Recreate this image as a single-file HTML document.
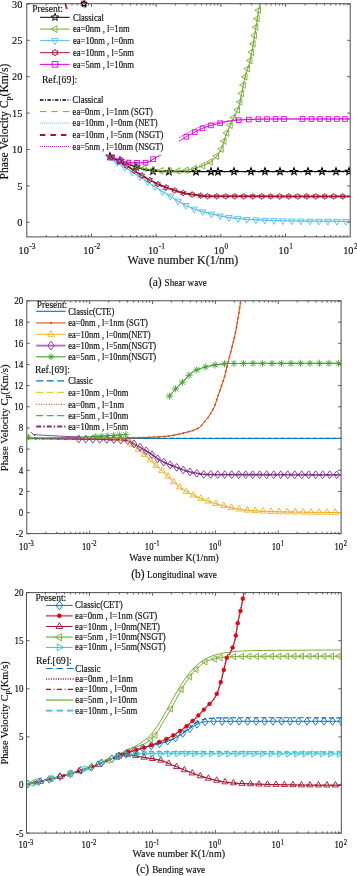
<!DOCTYPE html>
<html><head><meta charset="utf-8"><style>
html,body{margin:0;padding:0;background:#fff;}
body{width:357px;height:876px;overflow:hidden;}
svg{display:block;will-change:transform;}
text{font-family:"Liberation Serif", serif;fill:#111;stroke:#111;stroke-width:0.16px;}
</style></head><body>
<svg width="357" height="876" viewBox="0 0 357 876">
<g>
<rect x="26.8" y="3.7" width="323.4" height="233.20000000000002" fill="none" stroke="#4d4d4d" stroke-width="1"/>
<path d="M46.27,236.9v-1.8M46.27,3.7v1.8M57.66,236.9v-1.8M57.66,3.7v1.8M65.74,236.9v-1.8M65.74,3.7v1.8M72.01,236.9v-1.8M72.01,3.7v1.8M77.13,236.9v-1.8M77.13,3.7v1.8M81.46,236.9v-1.8M81.46,3.7v1.8M85.21,236.9v-1.8M85.21,3.7v1.8M88.52,236.9v-1.8M88.52,3.7v1.8M91.48,236.9v-3.2M91.48,3.7v3.2M110.95,236.9v-1.8M110.95,3.7v1.8M122.34,236.9v-1.8M122.34,3.7v1.8M130.42,236.9v-1.8M130.42,3.7v1.8M136.69,236.9v-1.8M136.69,3.7v1.8M141.81,236.9v-1.8M141.81,3.7v1.8M146.14,236.9v-1.8M146.14,3.7v1.8M149.89,236.9v-1.8M149.89,3.7v1.8M153.20,236.9v-1.8M153.20,3.7v1.8M156.16,236.9v-3.2M156.16,3.7v3.2M175.63,236.9v-1.8M175.63,3.7v1.8M187.02,236.9v-1.8M187.02,3.7v1.8M195.10,236.9v-1.8M195.10,3.7v1.8M201.37,236.9v-1.8M201.37,3.7v1.8M206.49,236.9v-1.8M206.49,3.7v1.8M210.82,236.9v-1.8M210.82,3.7v1.8M214.57,236.9v-1.8M214.57,3.7v1.8M217.88,236.9v-1.8M217.88,3.7v1.8M220.84,236.9v-3.2M220.84,3.7v3.2M240.31,236.9v-1.8M240.31,3.7v1.8M251.70,236.9v-1.8M251.70,3.7v1.8M259.78,236.9v-1.8M259.78,3.7v1.8M266.05,236.9v-1.8M266.05,3.7v1.8M271.17,236.9v-1.8M271.17,3.7v1.8M275.50,236.9v-1.8M275.50,3.7v1.8M279.25,236.9v-1.8M279.25,3.7v1.8M282.56,236.9v-1.8M282.56,3.7v1.8M285.52,236.9v-3.2M285.52,3.7v3.2M304.99,236.9v-1.8M304.99,3.7v1.8M316.38,236.9v-1.8M316.38,3.7v1.8M324.46,236.9v-1.8M324.46,3.7v1.8M330.73,236.9v-1.8M330.73,3.7v1.8M335.85,236.9v-1.8M335.85,3.7v1.8M340.18,236.9v-1.8M340.18,3.7v1.8M343.93,236.9v-1.8M343.93,3.7v1.8M347.24,236.9v-1.8M347.24,3.7v1.8M26.8,222.30h3M350.2,222.30h-3M26.8,185.90h3M350.2,185.90h-3M26.8,149.50h3M350.2,149.50h-3M26.8,113.10h3M350.2,113.10h-3M26.8,76.70h3M350.2,76.70h-3M26.8,40.30h3M350.2,40.30h-3M26.8,3.90h3M350.2,3.90h-3" stroke="#4d4d4d" stroke-width="0.9" fill="none"/>
<text transform="translate(22.4,225.96) scale(1,1.05)" font-size="10.3" text-anchor="end" stroke-width="0.06">0</text>
<text transform="translate(22.4,189.56) scale(1,1.05)" font-size="10.3" text-anchor="end" stroke-width="0.06">5</text>
<text transform="translate(22.4,153.16) scale(1,1.05)" font-size="10.3" text-anchor="end" stroke-width="0.06">10</text>
<text transform="translate(22.4,116.76) scale(1,1.05)" font-size="10.3" text-anchor="end" stroke-width="0.06">15</text>
<text transform="translate(22.4,80.36) scale(1,1.05)" font-size="10.3" text-anchor="end" stroke-width="0.06">20</text>
<text transform="translate(22.4,43.96) scale(1,1.05)" font-size="10.3" text-anchor="end" stroke-width="0.06">25</text>
<text transform="translate(22.4,7.56) scale(1,1.05)" font-size="10.3" text-anchor="end" stroke-width="0.06">30</text>
<text transform="translate(18.57,254.1) scale(1,1.05)" font-size="10.3" stroke-width="0.06">10<tspan font-size="7.4" dx="0.5" dy="-4.64">-3</tspan></text>
<text transform="translate(83.25,254.1) scale(1,1.05)" font-size="10.3" stroke-width="0.06">10<tspan font-size="7.4" dx="0.5" dy="-4.64">-2</tspan></text>
<text transform="translate(147.93,254.1) scale(1,1.05)" font-size="10.3" stroke-width="0.06">10<tspan font-size="7.4" dx="0.5" dy="-4.64">-1</tspan></text>
<text transform="translate(213.84,254.1) scale(1,1.05)" font-size="10.3" stroke-width="0.06">10<tspan font-size="7.4" dx="0.5" dy="-4.64">0</tspan></text>
<text transform="translate(278.52,254.1) scale(1,1.05)" font-size="10.3" stroke-width="0.06">10<tspan font-size="7.4" dx="0.5" dy="-4.64">1</tspan></text>
<text transform="translate(343.20,254.1) scale(1,1.05)" font-size="10.3" stroke-width="0.06">10<tspan font-size="7.4" dx="0.5" dy="-4.64">2</tspan></text>
<text transform="translate(127.6,263.6) scale(1,0.96)" font-size="12" text-anchor="start" textLength="110.7" lengthAdjust="spacingAndGlyphs" stroke-width="0.06">Wave number K(1/nm)</text>
<text transform="translate(148.9,286.1) scale(1,1.05)" font-size="11.5" text-anchor="start" textLength="12.8" lengthAdjust="spacingAndGlyphs" stroke-width="0.06">(a)</text>
<text transform="translate(164.6,286.1) scale(1,1.05)" font-size="9.5" text-anchor="start" textLength="42.2" lengthAdjust="spacingAndGlyphs">Shear wave</text>
<text transform="translate(8.2,179.4) rotate(-90) scale(1,1.04)" font-size="11.6" textLength="115.8" lengthAdjust="spacingAndGlyphs">Phase Velocity C<tspan font-size="8.3" dy="2.7">p</tspan><tspan dy="-2.7">(Km/s)</tspan></text>
<clipPath id="ca"><rect x="26.8" y="3.7" width="323.4" height="233.2"/></clipPath>
<g clip-path="url(#ca)">
<path d="M106.50,155.10 C107.58,155.55 110.75,156.85 113.00,157.80 C115.25,158.75 117.17,159.63 120.00,160.80 C122.83,161.97 126.67,163.53 130.00,164.80 C133.33,166.07 136.67,167.43 140.00,168.40 C143.33,169.37 146.67,170.08 150.00,170.60 C153.33,171.12 151.67,171.33 160.00,171.50 C168.33,171.67 168.30,171.60 200.00,171.60 C231.70,171.60 325.17,171.52 350.20,171.50" fill="none" stroke="#000000" stroke-width="1.3" stroke-dasharray="3,1.5,1,1.5" stroke-linejoin="round"/>
<path d="M106.50,155.10 C108.75,156.02 115.25,158.82 120.00,160.60 C124.75,162.38 130.00,164.30 135.00,165.80 C140.00,167.30 145.00,168.73 150.00,169.60 C155.00,170.47 160.00,170.80 165.00,171.00 C170.00,171.20 175.83,171.05 180.00,170.80 C184.17,170.55 186.67,170.17 190.00,169.50 C193.33,168.83 196.65,168.03 200.00,166.80 C203.35,165.57 207.32,163.90 210.10,162.10 C212.88,160.30 214.73,158.37 216.70,156.00 C218.67,153.63 220.37,151.35 221.90,147.90 C223.43,144.45 224.57,138.92 225.90,135.30 C227.23,131.68 228.57,129.23 229.90,126.20 C231.23,123.17 232.48,120.15 233.90,117.10 C235.32,114.05 237.17,111.52 238.40,107.90 C239.63,104.28 240.15,100.72 241.30,95.40 C242.45,90.08 243.80,81.98 245.30,76.00 C246.80,70.02 248.55,67.50 250.30,59.50 C252.05,51.50 254.42,36.17 255.80,28.00 C257.18,19.83 257.78,14.55 258.60,10.50 C259.42,6.45 260.35,4.83 260.70,3.70" fill="none" stroke="#77AC30" stroke-width="1.0" stroke-dasharray="4,2" stroke-linejoin="round"/>
<path d="M106.50,155.10 C108.75,156.67 116.08,161.93 120.00,164.50 C123.92,167.07 126.67,168.45 130.00,170.50 C133.33,172.55 136.67,174.63 140.00,176.80 C143.33,178.97 146.67,181.28 150.00,183.50 C153.33,185.72 156.67,188.03 160.00,190.10 C163.33,192.17 166.67,193.87 170.00,195.90 C173.33,197.93 176.67,200.38 180.00,202.30 C183.33,204.22 186.67,205.97 190.00,207.40 C193.33,208.83 196.67,209.87 200.00,210.90 C203.33,211.93 206.67,212.77 210.00,213.60 C213.33,214.43 216.67,215.23 220.00,215.90 C223.33,216.57 225.83,217.05 230.00,217.60 C234.17,218.15 238.33,218.73 245.00,219.20 C251.67,219.67 260.83,220.10 270.00,220.40 C279.17,220.70 286.63,220.83 300.00,221.00 C313.37,221.17 341.83,221.33 350.20,221.40" fill="none" stroke="#4DBEEE" stroke-width="1.0" stroke-dasharray="1,1" stroke-linejoin="round"/>
<path d="M106.50,155.10 C108.75,156.25 116.08,159.88 120.00,162.00 C123.92,164.12 126.67,165.75 130.00,167.80 C133.33,169.85 136.65,172.23 140.00,174.30 C143.35,176.37 146.73,178.38 150.10,180.20 C153.47,182.02 156.83,183.75 160.20,185.20 C163.57,186.65 166.95,187.73 170.30,188.90 C173.65,190.07 176.95,191.30 180.30,192.20 C183.65,193.10 187.12,193.77 190.40,194.30 C193.68,194.83 195.90,195.07 200.00,195.40 C204.10,195.73 189.97,196.13 215.00,196.30 C240.03,196.47 327.67,196.38 350.20,196.40" fill="none" stroke="#A2142F" stroke-width="1.8" stroke-dasharray="4,2" stroke-linejoin="round"/>
<path d="M106.80,155.10 C108.17,155.68 111.63,157.40 115.00,158.60 C118.37,159.80 123.43,161.60 127.00,162.30 C130.57,163.00 133.00,162.80 136.40,162.80 C139.80,162.80 144.37,163.07 147.40,162.30 C150.43,161.53 152.42,159.38 154.60,158.20 C156.78,157.02 159.52,155.70 160.50,155.20" fill="none" stroke="#E000E0" stroke-width="1.0" stroke-dasharray="1,1" stroke-linejoin="round"/>
<path d="M179.00,137.80 C180.83,136.77 185.67,133.73 190.00,131.60 C194.33,129.47 199.97,126.57 205.00,125.00 C210.03,123.43 215.42,123.00 220.20,122.20 C224.98,121.40 227.90,120.70 233.70,120.20 C239.50,119.70 235.58,119.40 255.00,119.20 C274.42,119.00 334.33,119.03 350.20,119.00" fill="none" stroke="#E000E0" stroke-width="0.9" stroke-dasharray="1.2,0.6" stroke-linejoin="round"/>
<path d="M106.50,155.10 C107.58,155.55 110.75,156.85 113.00,157.80 C115.25,158.75 117.17,159.63 120.00,160.80 C122.83,161.97 126.67,163.53 130.00,164.80 C133.33,166.07 136.67,167.43 140.00,168.40 C143.33,169.37 146.67,170.08 150.00,170.60 C153.33,171.12 151.67,171.33 160.00,171.50 C168.33,171.67 168.30,171.60 200.00,171.60 C231.70,171.60 325.17,171.52 350.20,171.50" fill="none" stroke="#000000" stroke-width="1.0" stroke-linejoin="round"/>
<path d="M106.50,155.10 C108.75,156.02 115.25,158.82 120.00,160.60 C124.75,162.38 130.00,164.30 135.00,165.80 C140.00,167.30 145.00,168.73 150.00,169.60 C155.00,170.47 160.00,170.80 165.00,171.00 C170.00,171.20 175.83,171.05 180.00,170.80 C184.17,170.55 186.67,170.17 190.00,169.50 C193.33,168.83 196.65,168.03 200.00,166.80 C203.35,165.57 207.32,163.90 210.10,162.10 C212.88,160.30 214.73,158.37 216.70,156.00 C218.67,153.63 220.37,151.35 221.90,147.90 C223.43,144.45 224.57,138.92 225.90,135.30 C227.23,131.68 228.57,129.23 229.90,126.20 C231.23,123.17 232.48,120.15 233.90,117.10 C235.32,114.05 237.17,111.52 238.40,107.90 C239.63,104.28 240.15,100.72 241.30,95.40 C242.45,90.08 243.80,81.98 245.30,76.00 C246.80,70.02 248.55,67.50 250.30,59.50 C252.05,51.50 254.42,36.17 255.80,28.00 C257.18,19.83 257.78,14.55 258.60,10.50 C259.42,6.45 260.35,4.83 260.70,3.70" fill="none" stroke="#77AC30" stroke-width="1.0" stroke-linejoin="round"/>
<path d="M106.50,155.10 C108.75,156.67 116.08,161.93 120.00,164.50 C123.92,167.07 126.67,168.45 130.00,170.50 C133.33,172.55 136.67,174.63 140.00,176.80 C143.33,178.97 146.67,181.28 150.00,183.50 C153.33,185.72 156.67,188.03 160.00,190.10 C163.33,192.17 166.67,193.87 170.00,195.90 C173.33,197.93 176.67,200.38 180.00,202.30 C183.33,204.22 186.67,205.97 190.00,207.40 C193.33,208.83 196.67,209.87 200.00,210.90 C203.33,211.93 206.67,212.77 210.00,213.60 C213.33,214.43 216.67,215.23 220.00,215.90 C223.33,216.57 225.83,217.05 230.00,217.60 C234.17,218.15 238.33,218.73 245.00,219.20 C251.67,219.67 260.83,220.10 270.00,220.40 C279.17,220.70 286.63,220.83 300.00,221.00 C313.37,221.17 341.83,221.33 350.20,221.40" fill="none" stroke="#4DBEEE" stroke-width="1.0" stroke-linejoin="round"/>
<path d="M106.50,155.10 C108.75,156.25 116.08,159.88 120.00,162.00 C123.92,164.12 126.67,165.75 130.00,167.80 C133.33,169.85 136.65,172.23 140.00,174.30 C143.35,176.37 146.73,178.38 150.10,180.20 C153.47,182.02 156.83,183.75 160.20,185.20 C163.57,186.65 166.95,187.73 170.30,188.90 C173.65,190.07 176.95,191.30 180.30,192.20 C183.65,193.10 187.12,193.77 190.40,194.30 C193.68,194.83 195.90,195.07 200.00,195.40 C204.10,195.73 189.97,196.13 215.00,196.30 C240.03,196.47 327.67,196.38 350.20,196.40" fill="none" stroke="#A2142F" stroke-width="1.5" stroke-linejoin="round"/>
<path d="M106.80,155.10 C108.17,155.68 111.63,157.40 115.00,158.60 C118.37,159.80 123.43,161.60 127.00,162.30 C130.57,163.00 133.00,162.80 136.40,162.80 C139.80,162.80 144.37,163.07 147.40,162.30 C150.43,161.53 152.42,159.38 154.60,158.20 C156.78,157.02 159.52,155.70 160.50,155.20" fill="none" stroke="#E000E0" stroke-width="1.0" stroke-linejoin="round"/>
<path d="M179.00,141.30 C180.83,140.18 185.67,136.93 190.00,134.60 C194.33,132.27 199.97,129.20 205.00,127.30 C210.03,125.40 215.42,124.32 220.20,123.20 C224.98,122.08 227.90,121.25 233.70,120.60 C239.50,119.95 247.28,119.57 255.00,119.30 C262.72,119.03 264.13,119.05 280.00,119.00 C295.87,118.95 338.50,119.00 350.20,119.00" fill="none" stroke="#E000E0" stroke-width="1.0" stroke-linejoin="round"/>
<polygon points="110.00,152.75 110.94,155.26 113.61,155.37 111.52,157.04 112.23,159.62 110.00,158.14 107.77,159.62 108.48,157.04 106.39,155.37 109.06,155.26" fill="none" stroke="#000000" stroke-width="1.05"/>
<polygon points="120.00,157.00 120.94,159.51 123.61,159.63 121.52,161.29 122.23,163.87 120.00,162.40 117.77,163.87 118.48,161.29 116.39,159.63 119.06,159.51" fill="none" stroke="#000000" stroke-width="1.05"/>
<polygon points="136.00,163.28 136.94,165.79 139.61,165.91 137.52,167.57 138.23,170.15 136.00,168.68 133.77,170.15 134.48,167.57 132.39,165.91 135.06,165.79" fill="none" stroke="#000000" stroke-width="1.05"/>
<polygon points="153.00,167.36 153.94,169.87 156.61,169.99 154.52,171.66 155.23,174.24 153.00,172.76 150.77,174.24 151.48,171.66 149.39,169.99 152.06,169.87" fill="none" stroke="#000000" stroke-width="1.05"/>
<polygon points="169.00,167.81 169.94,170.32 172.61,170.43 170.52,172.10 171.23,174.68 169.00,173.20 166.77,174.68 167.48,172.10 165.39,170.43 168.06,170.32" fill="none" stroke="#000000" stroke-width="1.05"/>
<polygon points="196.00,167.80 196.94,170.31 199.61,170.43 197.52,172.09 198.23,174.67 196.00,173.20 193.77,174.67 194.48,172.09 192.39,170.43 195.06,170.31" fill="none" stroke="#000000" stroke-width="1.05"/>
<polygon points="211.00,167.80 211.94,170.31 214.61,170.42 212.52,172.09 213.23,174.67 211.00,173.19 208.77,174.67 209.48,172.09 207.39,170.42 210.06,170.31" fill="none" stroke="#000000" stroke-width="1.05"/>
<polygon points="218.00,167.79 218.94,170.30 221.61,170.42 219.52,172.09 220.23,174.67 218.00,173.19 215.77,174.67 216.48,172.09 214.39,170.42 217.06,170.30" fill="none" stroke="#000000" stroke-width="1.05"/>
<polygon points="234.00,167.79 234.94,170.30 237.61,170.41 235.52,172.08 236.23,174.66 234.00,173.18 231.77,174.66 232.48,172.08 230.39,170.41 233.06,170.30" fill="none" stroke="#000000" stroke-width="1.05"/>
<polygon points="251.00,167.78 251.94,170.28 254.61,170.40 252.52,172.07 253.23,174.65 251.00,173.17 248.77,174.65 249.48,172.07 247.39,170.40 250.06,170.28" fill="none" stroke="#000000" stroke-width="1.05"/>
<polygon points="265.00,167.77 265.94,170.27 268.61,170.39 266.52,172.06 267.23,174.64 265.00,173.16 262.77,174.64 263.48,172.06 261.39,170.39 264.06,170.27" fill="none" stroke="#000000" stroke-width="1.05"/>
<polygon points="280.00,167.75 280.94,170.26 283.61,170.38 281.52,172.05 282.23,174.63 280.00,173.15 277.77,174.63 278.48,172.05 276.39,170.38 279.06,170.26" fill="none" stroke="#000000" stroke-width="1.05"/>
<polygon points="294.00,167.74 294.94,170.25 297.61,170.37 295.52,172.04 296.23,174.62 294.00,173.14 291.77,174.62 292.48,172.04 290.39,170.37 293.06,170.25" fill="none" stroke="#000000" stroke-width="1.05"/>
<polygon points="308.00,167.73 308.94,170.24 311.61,170.36 309.52,172.03 310.23,174.61 308.00,173.13 305.77,174.61 306.48,172.03 304.39,170.36 307.06,170.24" fill="none" stroke="#000000" stroke-width="1.05"/>
<polygon points="322.00,167.72 322.94,170.23 325.61,170.35 323.52,172.01 324.23,174.60 322.00,173.12 319.77,174.60 320.48,172.01 318.39,170.35 321.06,170.23" fill="none" stroke="#000000" stroke-width="1.05"/>
<polygon points="336.00,167.71 336.94,170.22 339.61,170.34 337.52,172.00 338.23,174.58 336.00,173.11 333.77,174.58 334.48,172.00 332.39,170.34 335.06,170.22" fill="none" stroke="#000000" stroke-width="1.05"/>
<polygon points="349.00,167.70 349.94,170.21 352.61,170.33 350.52,171.99 351.23,174.58 349.00,173.10 346.77,174.58 347.48,171.99 345.39,170.33 348.06,170.21" fill="none" stroke="#000000" stroke-width="1.05"/>
<polygon points="108.24,157.41 113.94,154.12 113.94,160.70" fill="none" stroke="#77AC30" stroke-width="0.9"/>
<polygon points="116.13,160.57 121.83,157.28 121.83,163.86" fill="none" stroke="#77AC30" stroke-width="0.9"/>
<polygon points="124.11,163.48 129.81,160.19 129.81,166.77" fill="none" stroke="#77AC30" stroke-width="0.9"/>
<polygon points="132.20,166.10 137.90,162.81 137.90,169.39" fill="none" stroke="#77AC30" stroke-width="0.9"/>
<polygon points="140.39,168.37 146.09,165.08 146.09,171.66" fill="none" stroke="#77AC30" stroke-width="0.9"/>
<polygon points="148.73,169.99 154.43,166.70 154.43,173.28" fill="none" stroke="#77AC30" stroke-width="0.9"/>
<polygon points="157.19,170.80 162.89,167.51 162.89,174.09" fill="none" stroke="#77AC30" stroke-width="0.9"/>
<polygon points="165.68,171.09 171.38,167.80 171.38,174.38" fill="none" stroke="#77AC30" stroke-width="0.9"/>
<polygon points="174.18,170.91 179.88,167.62 179.88,174.20" fill="none" stroke="#77AC30" stroke-width="0.9"/>
<polygon points="182.64,170.14 188.34,166.85 188.34,173.43" fill="none" stroke="#77AC30" stroke-width="0.9"/>
<polygon points="190.96,168.42 196.66,165.13 196.66,171.71" fill="none" stroke="#77AC30" stroke-width="0.9"/>
<polygon points="199.01,165.71 204.71,162.42 204.71,169.00" fill="none" stroke="#77AC30" stroke-width="0.9"/>
<polygon points="206.60,161.91 212.30,158.61 212.30,165.20" fill="none" stroke="#77AC30" stroke-width="0.9"/>
<polygon points="212.79,156.13 218.49,152.84 218.49,159.42" fill="none" stroke="#77AC30" stroke-width="0.9"/>
<polygon points="217.53,149.11 223.23,145.82 223.23,152.40" fill="none" stroke="#77AC30" stroke-width="0.9"/>
<polygon points="220.33,141.10 226.03,137.81 226.03,144.39" fill="none" stroke="#77AC30" stroke-width="0.9"/>
<polygon points="222.99,133.03 228.69,129.74 228.69,136.32" fill="none" stroke="#77AC30" stroke-width="0.9"/>
<polygon points="226.50,125.29 232.20,122.00 232.20,128.58" fill="none" stroke="#77AC30" stroke-width="0.9"/>
<polygon points="229.91,117.50 235.61,114.21 235.61,120.79" fill="none" stroke="#77AC30" stroke-width="0.9"/>
<polygon points="233.80,109.95 239.50,106.65 239.50,113.24" fill="none" stroke="#77AC30" stroke-width="0.9"/>
<polygon points="236.18,101.80 241.88,98.51 241.88,105.10" fill="none" stroke="#77AC30" stroke-width="0.9"/>
<polygon points="237.90,93.48 243.60,90.19 243.60,96.77" fill="none" stroke="#77AC30" stroke-width="0.9"/>
<polygon points="239.53,85.14 245.23,81.85 245.23,88.43" fill="none" stroke="#77AC30" stroke-width="0.9"/>
<polygon points="241.30,76.82 247.00,73.53 247.00,80.12" fill="none" stroke="#77AC30" stroke-width="0.9"/>
<polygon points="243.83,68.72 249.53,65.43 249.53,72.01" fill="none" stroke="#77AC30" stroke-width="0.9"/>
<polygon points="246.26,60.58 251.96,57.28 251.96,63.87" fill="none" stroke="#77AC30" stroke-width="0.9"/>
<polygon points="247.92,52.24 253.62,48.95 253.62,55.53" fill="none" stroke="#77AC30" stroke-width="0.9"/>
<polygon points="249.38,43.87 255.08,40.58 255.08,47.16" fill="none" stroke="#77AC30" stroke-width="0.9"/>
<polygon points="250.76,35.48 256.46,32.19 256.46,38.77" fill="none" stroke="#77AC30" stroke-width="0.9"/>
<polygon points="252.15,27.09 257.85,23.80 257.85,30.39" fill="none" stroke="#77AC30" stroke-width="0.9"/>
<polygon points="253.46,18.70 259.16,15.41 259.16,21.99" fill="none" stroke="#77AC30" stroke-width="0.9"/>
<polygon points="254.84,10.31 260.54,7.02 260.54,13.60" fill="none" stroke="#77AC30" stroke-width="0.9"/>
<polygon points="109.77,161.21 106.48,155.51 113.06,155.51" fill="none" stroke="#4DBEEE" stroke-width="0.9"/>
<polygon points="117.14,166.37 113.85,160.67 120.43,160.67" fill="none" stroke="#4DBEEE" stroke-width="0.9"/>
<polygon points="124.73,171.21 121.43,165.51 128.02,165.51" fill="none" stroke="#4DBEEE" stroke-width="0.9"/>
<polygon points="132.45,175.82 129.16,170.12 135.75,170.12" fill="none" stroke="#4DBEEE" stroke-width="0.9"/>
<polygon points="140.06,180.64 136.76,174.94 143.35,174.94" fill="none" stroke="#4DBEEE" stroke-width="0.9"/>
<polygon points="147.53,185.64 144.24,179.94 150.82,179.94" fill="none" stroke="#4DBEEE" stroke-width="0.9"/>
<polygon points="155.01,190.66 151.72,184.96 158.30,184.96" fill="none" stroke="#4DBEEE" stroke-width="0.9"/>
<polygon points="162.62,195.46 159.33,189.76 165.91,189.76" fill="none" stroke="#4DBEEE" stroke-width="0.9"/>
<polygon points="170.41,199.95 167.12,194.25 173.70,194.25" fill="none" stroke="#4DBEEE" stroke-width="0.9"/>
<polygon points="177.96,204.87 174.66,199.17 181.25,199.17" fill="none" stroke="#4DBEEE" stroke-width="0.9"/>
<polygon points="185.81,209.24 182.52,203.54 189.11,203.54" fill="none" stroke="#4DBEEE" stroke-width="0.9"/>
<polygon points="194.08,212.78 190.79,207.08 197.37,207.08" fill="none" stroke="#4DBEEE" stroke-width="0.9"/>
<polygon points="202.67,215.49 199.37,209.79 205.96,209.79" fill="none" stroke="#4DBEEE" stroke-width="0.9"/>
<polygon points="211.38,217.74 208.09,212.04 214.67,212.04" fill="none" stroke="#4DBEEE" stroke-width="0.9"/>
<polygon points="220.15,219.73 216.86,214.03 223.45,214.03" fill="none" stroke="#4DBEEE" stroke-width="0.9"/>
<polygon points="229.02,221.27 225.73,215.57 232.31,215.57" fill="none" stroke="#4DBEEE" stroke-width="0.9"/>
<polygon points="237.95,222.38 234.66,216.68 241.24,216.68" fill="none" stroke="#4DBEEE" stroke-width="0.9"/>
<polygon points="246.92,223.13 243.63,217.43 250.21,217.43" fill="none" stroke="#4DBEEE" stroke-width="0.9"/>
<polygon points="255.91,223.63 252.61,217.93 259.20,217.93" fill="none" stroke="#4DBEEE" stroke-width="0.9"/>
<polygon points="264.90,224.02 261.61,218.32 268.19,218.32" fill="none" stroke="#4DBEEE" stroke-width="0.9"/>
<polygon points="273.89,224.32 270.60,218.62 277.18,218.62" fill="none" stroke="#4DBEEE" stroke-width="0.9"/>
<polygon points="282.89,224.54 279.60,218.84 286.18,218.84" fill="none" stroke="#4DBEEE" stroke-width="0.9"/>
<polygon points="291.89,224.69 288.60,218.99 295.18,218.99" fill="none" stroke="#4DBEEE" stroke-width="0.9"/>
<polygon points="300.89,224.81 297.60,219.11 304.18,219.11" fill="none" stroke="#4DBEEE" stroke-width="0.9"/>
<polygon points="309.89,224.90 306.60,219.20 313.18,219.20" fill="none" stroke="#4DBEEE" stroke-width="0.9"/>
<polygon points="318.89,224.98 315.60,219.28 322.18,219.28" fill="none" stroke="#4DBEEE" stroke-width="0.9"/>
<polygon points="327.89,225.04 324.60,219.34 331.18,219.34" fill="none" stroke="#4DBEEE" stroke-width="0.9"/>
<polygon points="336.89,225.11 333.60,219.41 340.18,219.41" fill="none" stroke="#4DBEEE" stroke-width="0.9"/>
<polygon points="345.89,225.17 342.60,219.47 349.18,219.47" fill="none" stroke="#4DBEEE" stroke-width="0.9"/>
<polygon points="110.97,154.35 111.84,155.84 113.56,155.85 112.71,157.35 113.56,158.85 111.84,158.86 110.97,160.35 110.10,158.86 108.37,158.85 109.23,157.35 108.37,155.85 110.10,155.84" fill="none" stroke="#A2142F" stroke-width="0.9"/>
<polygon points="118.98,158.45 119.85,159.95 121.57,159.95 120.72,161.45 121.57,162.95 119.85,162.96 118.98,164.45 118.11,162.96 116.38,162.95 117.24,161.45 116.38,159.95 118.11,159.95" fill="none" stroke="#A2142F" stroke-width="0.9"/>
<polygon points="126.82,162.87 127.69,164.36 129.41,164.37 128.56,165.87 129.41,167.37 127.69,167.37 126.82,168.87 125.95,167.37 124.22,167.37 125.08,165.87 124.22,164.37 125.95,164.36" fill="none" stroke="#A2142F" stroke-width="0.9"/>
<polygon points="134.43,167.67 135.30,169.16 137.03,169.17 136.17,170.67 137.03,172.17 135.30,172.17 134.43,173.67 133.56,172.17 131.83,172.17 132.69,170.67 131.83,169.17 133.56,169.16" fill="none" stroke="#A2142F" stroke-width="0.9"/>
<polygon points="142.00,172.53 142.87,174.02 144.60,174.03 143.74,175.53 144.60,177.03 142.87,177.03 142.00,178.53 141.13,177.03 139.41,177.03 140.26,175.53 139.41,174.03 141.13,174.02" fill="none" stroke="#A2142F" stroke-width="0.9"/>
<polygon points="149.79,177.03 150.66,178.53 152.39,178.53 151.53,180.03 152.39,181.53 150.66,181.54 149.79,183.03 148.92,181.54 147.19,181.53 148.05,180.03 147.19,178.53 148.92,178.53" fill="none" stroke="#A2142F" stroke-width="0.9"/>
<polygon points="157.81,181.12 158.68,182.62 160.41,182.62 159.55,184.12 160.41,185.62 158.68,185.63 157.81,187.12 156.94,185.63 155.21,185.62 156.07,184.12 155.21,182.62 156.94,182.62" fill="none" stroke="#A2142F" stroke-width="0.9"/>
<polygon points="166.16,184.47 167.03,185.97 168.75,185.97 167.90,187.47 168.75,188.97 167.03,188.98 166.16,190.47 165.29,188.98 163.56,188.97 164.42,187.47 163.56,185.97 165.29,185.97" fill="none" stroke="#A2142F" stroke-width="0.9"/>
<polygon points="174.66,187.43 175.53,188.92 177.26,188.93 176.40,190.43 177.26,191.93 175.53,191.94 174.66,193.43 173.79,191.94 172.06,191.93 172.92,190.43 172.06,188.93 173.79,188.92" fill="none" stroke="#A2142F" stroke-width="0.9"/>
<polygon points="183.29,189.94 184.16,191.43 185.89,191.44 185.03,192.94 185.89,194.44 184.16,194.45 183.29,195.94 182.42,194.45 180.70,194.44 181.55,192.94 180.70,191.44 182.42,191.43" fill="none" stroke="#A2142F" stroke-width="0.9"/>
<polygon points="192.14,191.57 193.01,193.06 194.74,193.07 193.88,194.57 194.74,196.07 193.01,196.08 192.14,197.57 191.27,196.08 189.55,196.07 190.40,194.57 189.55,193.07 191.27,193.06" fill="none" stroke="#A2142F" stroke-width="0.9"/>
<polygon points="200.57,192.65 201.44,194.15 203.16,194.15 202.31,195.65 203.16,197.15 201.44,197.16 200.57,198.65 199.70,197.16 197.97,197.15 198.83,195.65 197.97,194.15 199.70,194.15" fill="none" stroke="#A2142F" stroke-width="0.9"/>
<polygon points="207.67,193.23 208.54,194.72 210.27,194.73 209.41,196.23 210.27,197.73 208.54,197.74 207.67,199.23 206.80,197.74 205.07,197.73 205.93,196.23 205.07,194.73 206.80,194.72" fill="none" stroke="#A2142F" stroke-width="0.9"/>
<polygon points="216.67,193.31 217.54,194.80 219.26,194.81 218.41,196.31 219.26,197.81 217.54,197.82 216.67,199.31 215.80,197.82 214.07,197.81 214.93,196.31 214.07,194.81 215.80,194.80" fill="none" stroke="#A2142F" stroke-width="0.9"/>
<polygon points="225.67,193.35 226.54,194.84 228.26,194.85 227.41,196.35 228.26,197.85 226.54,197.85 225.67,199.35 224.80,197.85 223.07,197.85 223.93,196.35 223.07,194.85 224.80,194.84" fill="none" stroke="#A2142F" stroke-width="0.9"/>
<polygon points="234.67,193.37 235.54,194.86 237.26,194.87 236.41,196.37 237.26,197.87 235.54,197.88 234.67,199.37 233.80,197.88 232.07,197.87 232.93,196.37 232.07,194.87 233.80,194.86" fill="none" stroke="#A2142F" stroke-width="0.9"/>
<polygon points="243.67,193.38 244.54,194.88 246.26,194.88 245.41,196.38 246.26,197.88 244.54,197.89 243.67,199.38 242.80,197.89 241.07,197.88 241.93,196.38 241.07,194.88 242.80,194.88" fill="none" stroke="#A2142F" stroke-width="0.9"/>
<polygon points="252.67,193.39 253.54,194.89 255.26,194.89 254.41,196.39 255.26,197.89 253.54,197.90 252.67,199.39 251.80,197.90 250.07,197.89 250.93,196.39 250.07,194.89 251.80,194.89" fill="none" stroke="#A2142F" stroke-width="0.9"/>
<polygon points="261.67,193.40 262.54,194.89 264.26,194.90 263.41,196.40 264.26,197.90 262.54,197.91 261.67,199.40 260.80,197.91 259.07,197.90 259.93,196.40 259.07,194.90 260.80,194.89" fill="none" stroke="#A2142F" stroke-width="0.9"/>
<polygon points="270.67,193.40 271.54,194.90 273.26,194.90 272.41,196.40 273.26,197.90 271.54,197.91 270.67,199.40 269.80,197.91 268.07,197.90 268.93,196.40 268.07,194.90 269.80,194.90" fill="none" stroke="#A2142F" stroke-width="0.9"/>
<polygon points="279.67,193.41 280.54,194.90 282.26,194.91 281.41,196.41 282.26,197.91 280.54,197.91 279.67,199.41 278.80,197.91 277.07,197.91 277.93,196.41 277.07,194.91 278.80,194.90" fill="none" stroke="#A2142F" stroke-width="0.9"/>
<polygon points="288.67,193.41 289.54,194.90 291.26,194.91 290.41,196.41 291.26,197.91 289.54,197.91 288.67,199.41 287.80,197.91 286.07,197.91 286.93,196.41 286.07,194.91 287.80,194.90" fill="none" stroke="#A2142F" stroke-width="0.9"/>
<polygon points="297.67,193.41 298.54,194.90 300.26,194.91 299.41,196.41 300.26,197.91 298.54,197.91 297.67,199.41 296.80,197.91 295.07,197.91 295.93,196.41 295.07,194.91 296.80,194.90" fill="none" stroke="#A2142F" stroke-width="0.9"/>
<polygon points="306.67,193.40 307.54,194.90 309.26,194.90 308.41,196.40 309.26,197.90 307.54,197.91 306.67,199.40 305.80,197.91 304.07,197.90 304.93,196.40 304.07,194.90 305.80,194.90" fill="none" stroke="#A2142F" stroke-width="0.9"/>
<polygon points="315.67,193.40 316.54,194.90 318.26,194.90 317.41,196.40 318.26,197.90 316.54,197.91 315.67,199.40 314.80,197.91 313.07,197.90 313.93,196.40 313.07,194.90 314.80,194.90" fill="none" stroke="#A2142F" stroke-width="0.9"/>
<polygon points="324.67,193.40 325.54,194.89 327.26,194.90 326.41,196.40 327.26,197.90 325.54,197.91 324.67,199.40 323.80,197.91 322.07,197.90 322.93,196.40 322.07,194.90 323.80,194.89" fill="none" stroke="#A2142F" stroke-width="0.9"/>
<polygon points="333.67,193.40 334.54,194.89 336.26,194.90 335.41,196.40 336.26,197.90 334.54,197.91 333.67,199.40 332.80,197.91 331.07,197.90 331.93,196.40 331.07,194.90 332.80,194.89" fill="none" stroke="#A2142F" stroke-width="0.9"/>
<polygon points="342.67,193.40 343.54,194.89 345.26,194.90 344.41,196.40 345.26,197.90 343.54,197.90 342.67,199.40 341.80,197.90 340.07,197.90 340.93,196.40 340.07,194.90 341.80,194.89" fill="none" stroke="#A2142F" stroke-width="0.9"/>
<rect x="109.96" y="155.22" width="4.64" height="4.64" fill="none" stroke="#E000E0" stroke-width="0.9"/>
<rect x="117.95" y="158.11" width="4.64" height="4.64" fill="none" stroke="#E000E0" stroke-width="0.9"/>
<rect x="126.17" y="160.23" width="4.64" height="4.64" fill="none" stroke="#E000E0" stroke-width="0.9"/>
<rect x="134.66" y="160.48" width="4.64" height="4.64" fill="none" stroke="#E000E0" stroke-width="0.9"/>
<rect x="143.15" y="160.32" width="4.64" height="4.64" fill="none" stroke="#E000E0" stroke-width="0.9"/>
<rect x="150.77" y="156.84" width="4.64" height="4.64" fill="none" stroke="#E000E0" stroke-width="0.9"/>
<rect x="183.98" y="134.40" width="4.64" height="4.64" fill="none" stroke="#E000E0" stroke-width="0.9"/>
<rect x="192.38" y="129.77" width="4.64" height="4.64" fill="none" stroke="#E000E0" stroke-width="0.9"/>
<rect x="200.18" y="125.99" width="4.64" height="4.64" fill="none" stroke="#E000E0" stroke-width="0.9"/>
<rect x="208.68" y="123.08" width="4.64" height="4.64" fill="none" stroke="#E000E0" stroke-width="0.9"/>
<rect x="217.88" y="120.88" width="4.64" height="4.64" fill="none" stroke="#E000E0" stroke-width="0.9"/>
<rect x="236.38" y="117.82" width="4.64" height="4.64" fill="none" stroke="#E000E0" stroke-width="0.9"/>
<rect x="246.48" y="117.22" width="4.64" height="4.64" fill="none" stroke="#E000E0" stroke-width="0.9"/>
<rect x="256.08" y="116.87" width="4.64" height="4.64" fill="none" stroke="#E000E0" stroke-width="0.9"/>
<rect x="264.68" y="116.73" width="4.64" height="4.64" fill="none" stroke="#E000E0" stroke-width="0.9"/>
<rect x="273.18" y="116.69" width="4.64" height="4.64" fill="none" stroke="#E000E0" stroke-width="0.9"/>
<rect x="281.68" y="116.67" width="4.64" height="4.64" fill="none" stroke="#E000E0" stroke-width="0.9"/>
<rect x="300.18" y="116.66" width="4.64" height="4.64" fill="none" stroke="#E000E0" stroke-width="0.9"/>
<rect x="309.18" y="116.66" width="4.64" height="4.64" fill="none" stroke="#E000E0" stroke-width="0.9"/>
<rect x="317.68" y="116.66" width="4.64" height="4.64" fill="none" stroke="#E000E0" stroke-width="0.9"/>
<rect x="326.18" y="116.67" width="4.64" height="4.64" fill="none" stroke="#E000E0" stroke-width="0.9"/>
<rect x="334.68" y="116.67" width="4.64" height="4.64" fill="none" stroke="#E000E0" stroke-width="0.9"/>
<rect x="342.68" y="116.68" width="4.64" height="4.64" fill="none" stroke="#E000E0" stroke-width="0.9"/>
</g>
<path d="M65.3,3.7 L66.9,9" stroke="#A2142F" stroke-width="1.6"/>
<rect x="81.36" y="1.16" width="4.48" height="4.48" fill="none" stroke="#E000E0" stroke-width="0.9"/>
<polygon points="84.10,0.90 84.97,2.39 86.70,2.40 85.84,3.90 86.70,5.40 84.97,5.41 84.10,6.90 83.23,5.41 81.50,5.40 82.36,3.90 81.50,2.40 83.23,2.39" fill="none" stroke="#A2142F" stroke-width="0.9"/>
<polygon points="84.30,8.20 81.36,3.10 87.24,3.10" fill="none" stroke="#4DBEEE" stroke-width="0.9"/>
<polygon points="80.70,4.60 85.80,1.66 85.80,7.54" fill="none" stroke="#77AC30" stroke-width="0.9"/>
<polygon points="84.10,0.50 84.94,2.74 87.33,2.85 85.46,4.34 86.10,6.65 84.10,5.33 82.10,6.65 82.74,4.34 80.87,2.85 83.26,2.74" fill="none" stroke="#000000" stroke-width="0.9"/>
<text transform="translate(32.2,11.9) scale(1,1.0)" font-size="10.5" text-anchor="start" textLength="30.8" lengthAdjust="spacingAndGlyphs" stroke-width="0.06">Present:</text>
<path d="M39.9,17.3H69.7" stroke="#000000" stroke-width="1.0" fill="none"/>
<polygon points="55.00,13.30 55.99,15.94 58.80,16.06 56.60,17.82 57.35,20.54 55.00,18.98 52.65,20.54 53.40,17.82 51.20,16.06 54.01,15.94" fill="none" stroke="#000000" stroke-width="0.9"/>
<text transform="translate(72.9,20.5) scale(1,1.12)" font-size="8.6" text-anchor="start">Classical</text>
<path d="M39.9,29.1H69.7" stroke="#77AC30" stroke-width="1.0" fill="none"/>
<polygon points="51.00,29.10 57.00,25.64 57.00,32.56" fill="none" stroke="#77AC30" stroke-width="0.9"/>
<text transform="translate(72.9,32.3) scale(1,1.12)" font-size="8.6" text-anchor="start">ea=0nm , l=1nm</text>
<path d="M39.9,40.6H69.7" stroke="#4DBEEE" stroke-width="1.0" fill="none"/>
<polygon points="55.00,44.60 51.54,38.60 58.46,38.60" fill="none" stroke="#4DBEEE" stroke-width="0.9"/>
<text transform="translate(72.9,43.8) scale(1,1.12)" font-size="8.6" text-anchor="start">ea=10nm , l=0nm</text>
<path d="M39.9,52.7H69.7" stroke="#A2142F" stroke-width="1.0" fill="none"/>
<polygon points="55.00,49.30 55.99,50.99 57.94,51.00 56.97,52.70 57.94,54.40 55.99,54.41 55.00,56.10 54.01,54.41 52.06,54.40 53.03,52.70 52.06,51.00 54.01,50.99" fill="none" stroke="#A2142F" stroke-width="0.9"/>
<text transform="translate(72.9,55.9) scale(1,1.12)" font-size="8.6" text-anchor="start">ea=10nm , l=5nm</text>
<path d="M39.9,64.4H69.7" stroke="#E000E0" stroke-width="1.0" fill="none"/>
<rect x="52.20" y="61.60" width="5.60" height="5.60" fill="none" stroke="#E000E0" stroke-width="0.9"/>
<text transform="translate(72.9,67.6) scale(1,1.12)" font-size="8.6" text-anchor="start">ea=5nm , l=10nm</text>
<text transform="translate(41.9,83.0) scale(1,1.05)" font-size="10" text-anchor="start" textLength="35.3" lengthAdjust="spacingAndGlyphs" stroke-width="0.06">Ref.[69]:</text>
<path d="M39.9,100.0H70.3" stroke="#000000" stroke-width="1.6" stroke-dasharray="3.5,1.5,1,1.5" fill="none"/>
<text transform="translate(72.6,103.0) scale(1,1.12)" font-size="8.55" text-anchor="start">Classical</text>
<path d="M39.9,111.6H70.3" stroke="#77AC30" stroke-width="1.0" stroke-dasharray="6.5,5" fill="none"/>
<text transform="translate(72.6,114.6) scale(1,1.12)" font-size="8.55" text-anchor="start">ea=0nm , l=1nm (SGT)</text>
<path d="M39.9,123.1H70.3" stroke="#4DBEEE" stroke-width="1.0" stroke-dasharray="1,1" fill="none"/>
<text transform="translate(72.6,126.1) scale(1,1.12)" font-size="8.55" text-anchor="start">ea=10nm , l=0nm (NET)</text>
<path d="M39.9,134.9H70.3" stroke="#A2142F" stroke-width="2.0" stroke-dasharray="5.5,5" fill="none"/>
<text transform="translate(72.6,137.9) scale(1,1.12)" font-size="8.55" text-anchor="start">ea=10nm , l=5nm (NSGT)</text>
<path d="M39.9,146.5H70.3" stroke="#E000E0" stroke-width="1.0" stroke-dasharray="1,1" fill="none"/>
<text transform="translate(72.6,149.5) scale(1,1.12)" font-size="8.55" text-anchor="start">ea=5nm , l=10nm (NSGT)</text>
</g>
<g>
<rect x="26.8" y="300.8" width="314.3" height="232.8" fill="none" stroke="#4d4d4d" stroke-width="1"/>
<path d="M45.72,533.6v-1.8M45.72,300.8v1.8M56.79,533.6v-1.8M56.79,300.8v1.8M64.65,533.6v-1.8M64.65,300.8v1.8M70.74,533.6v-1.8M70.74,300.8v1.8M75.71,533.6v-1.8M75.71,300.8v1.8M79.92,533.6v-1.8M79.92,300.8v1.8M83.57,533.6v-1.8M83.57,300.8v1.8M86.78,533.6v-1.8M86.78,300.8v1.8M89.66,533.6v-3.2M89.66,300.8v3.2M108.58,533.6v-1.8M108.58,300.8v1.8M119.65,533.6v-1.8M119.65,300.8v1.8M127.51,533.6v-1.8M127.51,300.8v1.8M133.60,533.6v-1.8M133.60,300.8v1.8M138.57,533.6v-1.8M138.57,300.8v1.8M142.78,533.6v-1.8M142.78,300.8v1.8M146.43,533.6v-1.8M146.43,300.8v1.8M149.64,533.6v-1.8M149.64,300.8v1.8M152.52,533.6v-3.2M152.52,300.8v3.2M171.44,533.6v-1.8M171.44,300.8v1.8M182.51,533.6v-1.8M182.51,300.8v1.8M190.37,533.6v-1.8M190.37,300.8v1.8M196.46,533.6v-1.8M196.46,300.8v1.8M201.43,533.6v-1.8M201.43,300.8v1.8M205.64,533.6v-1.8M205.64,300.8v1.8M209.29,533.6v-1.8M209.29,300.8v1.8M212.50,533.6v-1.8M212.50,300.8v1.8M215.38,533.6v-3.2M215.38,300.8v3.2M234.30,533.6v-1.8M234.30,300.8v1.8M245.37,533.6v-1.8M245.37,300.8v1.8M253.23,533.6v-1.8M253.23,300.8v1.8M259.32,533.6v-1.8M259.32,300.8v1.8M264.29,533.6v-1.8M264.29,300.8v1.8M268.50,533.6v-1.8M268.50,300.8v1.8M272.15,533.6v-1.8M272.15,300.8v1.8M275.36,533.6v-1.8M275.36,300.8v1.8M278.24,533.6v-3.2M278.24,300.8v3.2M297.16,533.6v-1.8M297.16,300.8v1.8M308.23,533.6v-1.8M308.23,300.8v1.8M316.09,533.6v-1.8M316.09,300.8v1.8M322.18,533.6v-1.8M322.18,300.8v1.8M327.15,533.6v-1.8M327.15,300.8v1.8M331.36,533.6v-1.8M331.36,300.8v1.8M335.01,533.6v-1.8M335.01,300.8v1.8M338.22,533.6v-1.8M338.22,300.8v1.8M26.8,533.76h3M341.1,533.76h-3M26.8,512.60h3M341.1,512.60h-3M26.8,491.44h3M341.1,491.44h-3M26.8,470.28h3M341.1,470.28h-3M26.8,449.12h3M341.1,449.12h-3M26.8,427.96h3M341.1,427.96h-3M26.8,406.80h3M341.1,406.80h-3M26.8,385.64h3M341.1,385.64h-3M26.8,364.48h3M341.1,364.48h-3M26.8,343.32h3M341.1,343.32h-3M26.8,322.16h3M341.1,322.16h-3M26.8,301.00h3M341.1,301.00h-3" stroke="#4d4d4d" stroke-width="0.9" fill="none"/>
<text transform="translate(23.2,537.2) scale(1,1.13)" font-size="9.0" text-anchor="end">-2</text>
<text transform="translate(23.2,516.04) scale(1,1.13)" font-size="9.0" text-anchor="end">0</text>
<text transform="translate(23.2,494.88) scale(1,1.13)" font-size="9.0" text-anchor="end">2</text>
<text transform="translate(23.2,473.72) scale(1,1.13)" font-size="9.0" text-anchor="end">4</text>
<text transform="translate(23.2,452.56) scale(1,1.13)" font-size="9.0" text-anchor="end">6</text>
<text transform="translate(23.2,431.4) scale(1,1.13)" font-size="9.0" text-anchor="end">8</text>
<text transform="translate(23.2,410.24) scale(1,1.13)" font-size="9.0" text-anchor="end">10</text>
<text transform="translate(23.2,389.08) scale(1,1.13)" font-size="9.0" text-anchor="end">12</text>
<text transform="translate(23.2,367.92) scale(1,1.13)" font-size="9.0" text-anchor="end">14</text>
<text transform="translate(23.2,346.76) scale(1,1.13)" font-size="9.0" text-anchor="end">16</text>
<text transform="translate(23.2,325.6) scale(1,1.13)" font-size="9.0" text-anchor="end">18</text>
<text transform="translate(23.2,304.44) scale(1,1.13)" font-size="9.0" text-anchor="end">20</text>
<text transform="translate(19.10,549.9) scale(1,1.13)" font-size="8.7">10<tspan font-size="6.6" dx="0.5" dy="-3.13">-3</tspan></text>
<text transform="translate(81.96,549.9) scale(1,1.13)" font-size="8.7">10<tspan font-size="6.6" dx="0.5" dy="-3.13">-2</tspan></text>
<text transform="translate(144.82,549.9) scale(1,1.13)" font-size="8.7">10<tspan font-size="6.6" dx="0.5" dy="-3.13">-1</tspan></text>
<text transform="translate(208.78,549.9) scale(1,1.13)" font-size="8.7">10<tspan font-size="6.6" dx="0.5" dy="-3.13">0</tspan></text>
<text transform="translate(271.64,549.9) scale(1,1.13)" font-size="8.7">10<tspan font-size="6.6" dx="0.5" dy="-3.13">1</tspan></text>
<text transform="translate(334.50,549.9) scale(1,1.13)" font-size="8.7">10<tspan font-size="6.6" dx="0.5" dy="-3.13">2</tspan></text>
<text transform="translate(129.2,560.7) scale(1,1.0)" font-size="10" text-anchor="start" textLength="89.6" lengthAdjust="spacingAndGlyphs" stroke-width="0.06">Wave number K(1/nm)</text>
<text transform="translate(131.3,578.1) scale(1,1.13)" font-size="11.4" text-anchor="start" textLength="13.3" lengthAdjust="spacingAndGlyphs" stroke-width="0.06">(b)</text>
<text transform="translate(147.1,578.1) scale(1,1.13)" font-size="9.3" text-anchor="start" textLength="69.9" lengthAdjust="spacingAndGlyphs">Longitudinal wave</text>
<text transform="translate(7.8,471.2) rotate(-90) scale(1,1.05)" font-size="10.3" textLength="106.8" lengthAdjust="spacingAndGlyphs">Phase Velocity C<tspan font-size="7.3" dy="2.4">p</tspan><tspan dy="-2.4">(Km/s)</tspan></text>
<clipPath id="cb"><rect x="26.8" y="300.8" width="314.3" height="232.8"/></clipPath>
<g clip-path="url(#cb)">
<path d="M26.80,438.40 L341.10,438.40" fill="none" stroke="#0072BD" stroke-width="1.2" stroke-dasharray="4,2.5" stroke-linejoin="round"/>
<path d="M26.80,438.40 C39.00,438.40 84.47,438.33 100.00,438.40 C115.53,438.47 115.83,438.62 120.00,438.80 C124.17,438.98 123.33,438.83 125.00,439.50 C126.67,440.17 128.33,441.58 130.00,442.80 C131.67,444.02 133.17,445.35 135.00,446.80 C136.83,448.25 138.75,449.60 141.00,451.50 C143.25,453.40 146.17,456.03 148.50,458.20 C150.83,460.37 152.25,461.95 155.00,464.50 C157.75,467.05 161.67,470.42 165.00,473.50 C168.33,476.58 172.50,480.67 175.00,483.00 C177.50,485.33 177.50,485.75 180.00,487.50 C182.50,489.25 186.67,491.73 190.00,493.50 C193.33,495.27 196.67,496.72 200.00,498.10 C203.33,499.48 206.67,500.68 210.00,501.80 C213.33,502.92 215.00,503.55 220.00,504.80 C225.00,506.05 233.33,508.25 240.00,509.30 C246.67,510.35 251.67,510.65 260.00,511.10 C268.33,511.55 276.48,511.75 290.00,512.00 C303.52,512.25 332.58,512.50 341.10,512.60" fill="none" stroke="#D2D23C" stroke-width="1.0" stroke-dasharray="5,2.5" stroke-linejoin="round"/>
<path d="M26.80,438.40 C40.67,438.37 91.13,438.33 110.00,438.20 C128.87,438.07 131.67,437.83 140.00,437.60 C148.33,437.37 154.17,437.23 160.00,436.80 C165.83,436.37 170.00,435.90 175.00,435.00 C180.00,434.10 186.57,432.33 190.00,431.40 C193.43,430.47 193.92,430.13 195.60,429.40 C197.28,428.67 198.70,428.20 200.10,427.00 C201.50,425.80 202.60,423.90 204.00,422.20 C205.40,420.50 206.82,419.28 208.50,416.80 C210.18,414.32 212.60,410.53 214.10,407.30 C215.60,404.07 216.50,400.27 217.50,397.40 C218.50,394.53 219.32,392.37 220.10,390.10 C220.88,387.83 221.50,385.90 222.20,383.80 C222.90,381.70 223.35,380.93 224.30,377.50 C225.25,374.07 226.83,367.45 227.90,363.20 C228.97,358.95 229.48,356.85 230.70,352.00 C231.92,347.15 233.98,339.70 235.20,334.10 C236.42,328.50 237.07,323.95 238.00,318.40 C238.93,312.85 240.22,304.20 240.80,300.80 C241.38,297.40 241.38,298.47 241.50,298.00" fill="none" stroke="#D95319" stroke-width="1.0" stroke-dasharray="1,1" stroke-linejoin="round"/>
<path d="M169.00,396.90 C170.17,395.50 173.38,391.32 176.00,388.50 C178.62,385.68 181.78,382.83 184.70,380.00 C187.62,377.17 189.78,373.73 193.50,371.50 C197.22,369.27 202.15,367.85 207.00,366.60 C211.85,365.35 217.10,364.53 222.60,364.00 C228.10,363.47 220.25,363.52 240.00,363.40 C259.75,363.28 324.25,363.32 341.10,363.30" fill="none" stroke="#4CB04C" stroke-width="1.0" stroke-dasharray="5,2.5" stroke-linejoin="round"/>
<path d="M26.80,438.40 C39.00,438.55 84.47,439.03 100.00,439.30 C115.53,439.57 115.33,439.75 120.00,440.00 C124.67,440.25 125.50,440.05 128.00,440.80 C130.50,441.55 132.70,443.25 135.00,444.50 C137.30,445.75 139.30,446.83 141.80,448.30 C144.30,449.77 147.20,451.45 150.00,453.30 C152.80,455.15 155.93,457.75 158.60,459.40 C161.27,461.05 163.20,461.97 166.00,463.20 C168.80,464.43 172.23,465.58 175.40,466.80 C178.57,468.02 180.90,469.33 185.00,470.50 C189.10,471.67 194.17,473.12 200.00,473.80 C205.83,474.48 196.48,474.43 220.00,474.60 C243.52,474.77 320.92,474.77 341.10,474.80" fill="none" stroke="#7E2F8E" stroke-width="1.8" stroke-dasharray="3.5,1.5,1,1.5" stroke-linejoin="round"/>
<path d="M26.80,438.40 L341.10,438.40" fill="none" stroke="#0072BD" stroke-width="1.0" stroke-linejoin="round"/>
<path d="M26.80,438.40 C40.67,438.37 91.13,438.33 110.00,438.20 C128.87,438.07 131.67,437.83 140.00,437.60 C148.33,437.37 154.17,437.23 160.00,436.80 C165.83,436.37 170.00,435.90 175.00,435.00 C180.00,434.10 186.57,432.33 190.00,431.40 C193.43,430.47 193.92,430.13 195.60,429.40 C197.28,428.67 198.70,428.20 200.10,427.00 C201.50,425.80 202.60,423.90 204.00,422.20 C205.40,420.50 206.82,419.28 208.50,416.80 C210.18,414.32 212.60,410.53 214.10,407.30 C215.60,404.07 216.50,400.27 217.50,397.40 C218.50,394.53 219.32,392.37 220.10,390.10 C220.88,387.83 221.50,385.90 222.20,383.80 C222.90,381.70 223.35,380.93 224.30,377.50 C225.25,374.07 226.83,367.45 227.90,363.20 C228.97,358.95 229.48,356.85 230.70,352.00 C231.92,347.15 233.98,339.70 235.20,334.10 C236.42,328.50 237.07,323.95 238.00,318.40 C238.93,312.85 240.22,304.20 240.80,300.80 C241.38,297.40 241.38,298.47 241.50,298.00" fill="none" stroke="#D95319" stroke-width="1.0" stroke-linejoin="round"/>
<path d="M26.80,438.40 C39.00,438.40 84.47,438.33 100.00,438.40 C115.53,438.47 115.83,438.62 120.00,438.80 C124.17,438.98 123.33,438.83 125.00,439.50 C126.67,440.17 128.33,441.58 130.00,442.80 C131.67,444.02 133.17,445.35 135.00,446.80 C136.83,448.25 138.75,449.60 141.00,451.50 C143.25,453.40 146.17,456.03 148.50,458.20 C150.83,460.37 152.25,461.95 155.00,464.50 C157.75,467.05 161.67,470.42 165.00,473.50 C168.33,476.58 172.50,480.67 175.00,483.00 C177.50,485.33 177.50,485.75 180.00,487.50 C182.50,489.25 186.67,491.73 190.00,493.50 C193.33,495.27 196.67,496.72 200.00,498.10 C203.33,499.48 206.67,500.68 210.00,501.80 C213.33,502.92 215.00,503.55 220.00,504.80 C225.00,506.05 233.33,508.25 240.00,509.30 C246.67,510.35 251.67,510.65 260.00,511.10 C268.33,511.55 276.48,511.75 290.00,512.00 C303.52,512.25 332.58,512.50 341.10,512.60" fill="none" stroke="#EDB120" stroke-width="1.0" stroke-linejoin="round"/>
<path d="M26.80,438.40 C39.00,438.55 84.47,439.03 100.00,439.30 C115.53,439.57 115.33,439.75 120.00,440.00 C124.67,440.25 125.50,440.05 128.00,440.80 C130.50,441.55 132.70,443.25 135.00,444.50 C137.30,445.75 139.30,446.83 141.80,448.30 C144.30,449.77 147.20,451.45 150.00,453.30 C152.80,455.15 155.93,457.75 158.60,459.40 C161.27,461.05 163.20,461.97 166.00,463.20 C168.80,464.43 172.23,465.58 175.40,466.80 C178.57,468.02 180.90,469.33 185.00,470.50 C189.10,471.67 194.17,473.12 200.00,473.80 C205.83,474.48 196.48,474.43 220.00,474.60 C243.52,474.77 320.92,474.77 341.10,474.80" fill="none" stroke="#7E2F8E" stroke-width="1.2" stroke-linejoin="round"/>
<path d="M26.80,438.40 C32.33,438.30 49.47,438.10 60.00,437.80 C70.53,437.50 81.67,436.97 90.00,436.60 C98.33,436.23 103.87,435.95 110.00,435.60 C116.13,435.25 124.00,434.68 126.80,434.50" fill="none" stroke="#3FA02A" stroke-width="1.0" stroke-linejoin="round"/>
<path d="M169.00,396.90 C170.17,395.50 173.38,391.32 176.00,388.50 C178.62,385.68 181.78,382.83 184.70,380.00 C187.62,377.17 189.78,373.73 193.50,371.50 C197.22,369.27 202.15,367.85 207.00,366.60 C211.85,365.35 217.10,364.53 222.60,364.00 C228.10,363.47 220.25,363.52 240.00,363.40 C259.75,363.28 324.25,363.32 341.10,363.30" fill="none" stroke="#3FA02A" stroke-width="1.0" stroke-linejoin="round"/>
<circle cx="128.80" cy="437.94" r="1.00" fill="#D95319"/>
<circle cx="133.80" cy="437.79" r="1.00" fill="#D95319"/>
<circle cx="138.79" cy="437.63" r="1.00" fill="#D95319"/>
<circle cx="143.79" cy="437.49" r="1.00" fill="#D95319"/>
<circle cx="148.79" cy="437.35" r="1.00" fill="#D95319"/>
<circle cx="153.79" cy="437.16" r="1.00" fill="#D95319"/>
<circle cx="158.78" cy="436.89" r="1.00" fill="#D95319"/>
<circle cx="163.76" cy="436.49" r="1.00" fill="#D95319"/>
<circle cx="168.73" cy="435.96" r="1.00" fill="#D95319"/>
<circle cx="173.68" cy="435.23" r="1.00" fill="#D95319"/>
<circle cx="178.59" cy="434.27" r="1.00" fill="#D95319"/>
<circle cx="183.45" cy="433.12" r="1.00" fill="#D95319"/>
<circle cx="188.29" cy="431.86" r="1.00" fill="#D95319"/>
<circle cx="193.09" cy="430.46" r="1.00" fill="#D95319"/>
<circle cx="197.69" cy="428.50" r="1.00" fill="#D95319"/>
<circle cx="201.56" cy="425.43" r="1.00" fill="#D95319"/>
<circle cx="204.62" cy="421.48" r="1.00" fill="#D95319"/>
<circle cx="207.87" cy="417.68" r="1.00" fill="#D95319"/>
<circle cx="210.64" cy="413.52" r="1.00" fill="#D95319"/>
<circle cx="213.15" cy="409.20" r="1.00" fill="#D95319"/>
<circle cx="215.18" cy="404.63" r="1.00" fill="#D95319"/>
<circle cx="216.71" cy="399.87" r="1.00" fill="#D95319"/>
<circle cx="218.30" cy="395.13" r="1.00" fill="#D95319"/>
<circle cx="219.99" cy="390.43" r="1.00" fill="#D95319"/>
<circle cx="221.58" cy="385.69" r="1.00" fill="#D95319"/>
<circle cx="223.22" cy="380.96" r="1.00" fill="#D95319"/>
<circle cx="224.66" cy="376.18" r="1.00" fill="#D95319"/>
<circle cx="225.89" cy="371.33" r="1.00" fill="#D95319"/>
<circle cx="227.09" cy="366.48" r="1.00" fill="#D95319"/>
<circle cx="228.29" cy="361.62" r="1.00" fill="#D95319"/>
<circle cx="229.51" cy="356.77" r="1.00" fill="#D95319"/>
<circle cx="230.72" cy="351.92" r="1.00" fill="#D95319"/>
<circle cx="231.97" cy="347.08" r="1.00" fill="#D95319"/>
<circle cx="233.23" cy="342.24" r="1.00" fill="#D95319"/>
<circle cx="234.44" cy="337.39" r="1.00" fill="#D95319"/>
<circle cx="235.54" cy="332.51" r="1.00" fill="#D95319"/>
<circle cx="236.47" cy="327.60" r="1.00" fill="#D95319"/>
<circle cx="237.30" cy="322.67" r="1.00" fill="#D95319"/>
<circle cx="238.11" cy="317.74" r="1.00" fill="#D95319"/>
<circle cx="238.90" cy="312.80" r="1.00" fill="#D95319"/>
<circle cx="239.68" cy="307.86" r="1.00" fill="#D95319"/>
<circle cx="240.45" cy="302.92" r="1.00" fill="#D95319"/>
<circle cx="241.48" cy="298.06" r="1.00" fill="#D95319"/>
<polygon points="117.80,434.99 121.00,440.54 114.59,440.54" fill="none" stroke="#EDB120" stroke-width="0.9"/>
<polygon points="125.63,436.09 128.84,441.64 122.43,441.64" fill="none" stroke="#EDB120" stroke-width="0.9"/>
<polygon points="132.12,440.75 135.32,446.30 128.92,446.30" fill="none" stroke="#EDB120" stroke-width="0.9"/>
<polygon points="138.40,445.71 141.60,451.26 135.19,451.26" fill="none" stroke="#EDB120" stroke-width="0.9"/>
<polygon points="144.51,450.87 147.72,456.42 141.31,456.42" fill="none" stroke="#EDB120" stroke-width="0.9"/>
<polygon points="150.38,456.30 153.58,461.85 147.18,461.85" fill="none" stroke="#EDB120" stroke-width="0.9"/>
<polygon points="156.14,461.85 159.35,467.40 152.94,467.40" fill="none" stroke="#EDB120" stroke-width="0.9"/>
<polygon points="162.11,467.18 165.32,472.73 158.91,472.73" fill="none" stroke="#EDB120" stroke-width="0.9"/>
<polygon points="167.99,472.61 171.19,478.16 164.78,478.16" fill="none" stroke="#EDB120" stroke-width="0.9"/>
<polygon points="173.77,478.14 176.97,483.69 170.56,483.69" fill="none" stroke="#EDB120" stroke-width="0.9"/>
<polygon points="179.65,483.55 182.85,489.10 176.44,489.10" fill="none" stroke="#EDB120" stroke-width="0.9"/>
<polygon points="186.41,487.81 189.62,493.36 183.21,493.36" fill="none" stroke="#EDB120" stroke-width="0.9"/>
<polygon points="193.49,491.54 196.69,497.09 190.28,497.09" fill="none" stroke="#EDB120" stroke-width="0.9"/>
<polygon points="200.82,494.74 204.02,500.29 197.62,500.29" fill="none" stroke="#EDB120" stroke-width="0.9"/>
<polygon points="208.32,497.53 211.52,503.08 205.11,503.08" fill="none" stroke="#EDB120" stroke-width="0.9"/>
<polygon points="215.92,500.01 219.12,505.56 212.71,505.56" fill="none" stroke="#EDB120" stroke-width="0.9"/>
<polygon points="223.66,502.02 226.87,507.57 220.46,507.57" fill="none" stroke="#EDB120" stroke-width="0.9"/>
<polygon points="231.44,503.90 234.64,509.45 228.23,509.45" fill="none" stroke="#EDB120" stroke-width="0.9"/>
<polygon points="239.28,505.48 242.48,511.03 236.07,511.03" fill="none" stroke="#EDB120" stroke-width="0.9"/>
<polygon points="247.21,506.53 250.41,512.08 244.00,512.08" fill="none" stroke="#EDB120" stroke-width="0.9"/>
<polygon points="255.19,507.13 258.39,512.68 251.98,512.68" fill="none" stroke="#EDB120" stroke-width="0.9"/>
<polygon points="263.17,507.56 266.38,513.11 259.97,513.11" fill="none" stroke="#EDB120" stroke-width="0.9"/>
<polygon points="271.17,507.87 274.37,513.42 267.96,513.42" fill="none" stroke="#EDB120" stroke-width="0.9"/>
<polygon points="279.17,508.08 282.37,513.63 275.96,513.63" fill="none" stroke="#EDB120" stroke-width="0.9"/>
<polygon points="287.16,508.25 290.37,513.80 283.96,513.80" fill="none" stroke="#EDB120" stroke-width="0.9"/>
<polygon points="295.16,508.38 298.37,513.93 291.96,513.93" fill="none" stroke="#EDB120" stroke-width="0.9"/>
<polygon points="303.16,508.49 306.37,514.04 299.96,514.04" fill="none" stroke="#EDB120" stroke-width="0.9"/>
<polygon points="311.16,508.59 314.37,514.14 307.96,514.14" fill="none" stroke="#EDB120" stroke-width="0.9"/>
<polygon points="319.16,508.67 322.37,514.22 315.96,514.22" fill="none" stroke="#EDB120" stroke-width="0.9"/>
<polygon points="327.16,508.76 330.36,514.31 323.96,514.31" fill="none" stroke="#EDB120" stroke-width="0.9"/>
<polygon points="335.16,508.84 338.36,514.39 331.96,514.39" fill="none" stroke="#EDB120" stroke-width="0.9"/>
<polygon points="78.80,435.11 81.72,439.01 78.80,442.91 75.87,439.01" fill="none" stroke="#7E2F8E" stroke-width="0.9"/>
<polygon points="85.80,435.19 88.72,439.09 85.80,442.99 82.87,439.09" fill="none" stroke="#7E2F8E" stroke-width="0.9"/>
<polygon points="92.80,435.29 95.72,439.19 92.80,443.09 89.87,439.19" fill="none" stroke="#7E2F8E" stroke-width="0.9"/>
<polygon points="99.79,435.40 102.72,439.30 99.79,443.20 96.87,439.30" fill="none" stroke="#7E2F8E" stroke-width="0.9"/>
<polygon points="106.79,435.53 109.72,439.43 106.79,443.33 103.87,439.43" fill="none" stroke="#7E2F8E" stroke-width="0.9"/>
<polygon points="113.79,435.74 116.71,439.64 113.79,443.54 110.86,439.64" fill="none" stroke="#7E2F8E" stroke-width="0.9"/>
<polygon points="120.78,436.14 123.70,440.04 120.78,443.94 117.85,440.04" fill="none" stroke="#7E2F8E" stroke-width="0.9"/>
<polygon points="127.72,436.82 130.65,440.72 127.72,444.62 124.80,440.72" fill="none" stroke="#7E2F8E" stroke-width="0.9"/>
<polygon points="133.94,439.99 136.86,443.89 133.94,447.79 131.01,443.89" fill="none" stroke="#7E2F8E" stroke-width="0.9"/>
<polygon points="140.06,443.39 142.98,447.29 140.06,451.19 137.13,447.29" fill="none" stroke="#7E2F8E" stroke-width="0.9"/>
<polygon points="146.09,446.94 149.02,450.84 146.09,454.74 143.17,450.84" fill="none" stroke="#7E2F8E" stroke-width="0.9"/>
<polygon points="151.95,450.76 154.88,454.66 151.95,458.56 149.03,454.66" fill="none" stroke="#7E2F8E" stroke-width="0.9"/>
<polygon points="157.62,454.87 160.55,458.77 157.62,462.67 154.70,458.77" fill="none" stroke="#7E2F8E" stroke-width="0.9"/>
<polygon points="163.73,458.27 166.65,462.17 163.73,466.07 160.80,462.17" fill="none" stroke="#7E2F8E" stroke-width="0.9"/>
<polygon points="170.19,460.97 173.11,464.87 170.19,468.77 167.26,464.87" fill="none" stroke="#7E2F8E" stroke-width="0.9"/>
<polygon points="176.74,463.44 179.66,467.34 176.74,471.24 173.81,467.34" fill="none" stroke="#7E2F8E" stroke-width="0.9"/>
<polygon points="183.23,466.05 186.15,469.95 183.23,473.85 180.30,469.95" fill="none" stroke="#7E2F8E" stroke-width="0.9"/>
<polygon points="189.96,467.96 192.88,471.86 189.96,475.76 187.03,471.86" fill="none" stroke="#7E2F8E" stroke-width="0.9"/>
<polygon points="196.80,469.44 199.72,473.34 196.80,477.24 193.87,473.34" fill="none" stroke="#7E2F8E" stroke-width="0.9"/>
<polygon points="203.71,470.51 206.63,474.41 203.71,478.31 200.78,474.41" fill="none" stroke="#7E2F8E" stroke-width="0.9"/>
<polygon points="210.71,470.63 213.63,474.53 210.71,478.43 207.78,474.53" fill="none" stroke="#7E2F8E" stroke-width="0.9"/>
<polygon points="217.71,470.68 220.63,474.58 217.71,478.48 214.78,474.58" fill="none" stroke="#7E2F8E" stroke-width="0.9"/>
<polygon points="224.71,470.73 227.63,474.63 224.71,478.53 221.78,474.63" fill="none" stroke="#7E2F8E" stroke-width="0.9"/>
<polygon points="231.71,470.76 234.63,474.66 231.71,478.56 228.78,474.66" fill="none" stroke="#7E2F8E" stroke-width="0.9"/>
<polygon points="238.71,470.78 241.63,474.68 238.71,478.58 235.78,474.68" fill="none" stroke="#7E2F8E" stroke-width="0.9"/>
<polygon points="245.71,470.80 248.63,474.70 245.71,478.60 242.78,474.70" fill="none" stroke="#7E2F8E" stroke-width="0.9"/>
<polygon points="252.71,470.81 255.63,474.71 252.71,478.61 249.78,474.71" fill="none" stroke="#7E2F8E" stroke-width="0.9"/>
<polygon points="259.71,470.82 262.63,474.72 259.71,478.62 256.78,474.72" fill="none" stroke="#7E2F8E" stroke-width="0.9"/>
<polygon points="266.71,470.83 269.63,474.73 266.71,478.63 263.78,474.73" fill="none" stroke="#7E2F8E" stroke-width="0.9"/>
<polygon points="273.71,470.84 276.63,474.74 273.71,478.64 270.78,474.74" fill="none" stroke="#7E2F8E" stroke-width="0.9"/>
<polygon points="280.71,470.85 283.63,474.75 280.71,478.65 277.78,474.75" fill="none" stroke="#7E2F8E" stroke-width="0.9"/>
<polygon points="287.71,470.86 290.63,474.76 287.71,478.66 284.78,474.76" fill="none" stroke="#7E2F8E" stroke-width="0.9"/>
<polygon points="294.71,470.86 297.63,474.76 294.71,478.66 291.78,474.76" fill="none" stroke="#7E2F8E" stroke-width="0.9"/>
<polygon points="301.71,470.87 304.63,474.77 301.71,478.67 298.78,474.77" fill="none" stroke="#7E2F8E" stroke-width="0.9"/>
<polygon points="308.71,470.87 311.63,474.77 308.71,478.67 305.78,474.77" fill="none" stroke="#7E2F8E" stroke-width="0.9"/>
<polygon points="315.71,470.88 318.63,474.78 315.71,478.68 312.78,474.78" fill="none" stroke="#7E2F8E" stroke-width="0.9"/>
<polygon points="322.71,470.88 325.63,474.78 322.71,478.68 319.78,474.78" fill="none" stroke="#7E2F8E" stroke-width="0.9"/>
<polygon points="329.71,470.89 332.63,474.79 329.71,478.69 326.78,474.79" fill="none" stroke="#7E2F8E" stroke-width="0.9"/>
<polygon points="336.71,470.89 339.63,474.79 336.71,478.69 333.78,474.79" fill="none" stroke="#7E2F8E" stroke-width="0.9"/>
<path d="M92.36,436.34L99.16,436.34M93.36,433.93L98.17,438.74M95.76,432.94L95.76,439.74M98.17,433.93L93.36,438.74" stroke="#3FA02A" stroke-width="0.8" fill="none"/>
<path d="M98.36,436.05L105.16,436.05M99.35,433.64L104.16,438.45M101.76,432.65L101.76,439.45M104.16,433.64L99.35,438.45" stroke="#3FA02A" stroke-width="0.8" fill="none"/>
<path d="M104.35,435.73L111.15,435.73M105.34,433.32L110.15,438.13M107.75,432.33L107.75,439.13M110.15,433.32L105.34,438.13" stroke="#3FA02A" stroke-width="0.8" fill="none"/>
<path d="M110.34,435.37L117.14,435.37M111.33,432.97L116.14,437.78M113.74,431.97L113.74,438.77M116.14,432.97L111.33,437.78" stroke="#3FA02A" stroke-width="0.8" fill="none"/>
<path d="M116.33,434.98L123.13,434.98M117.32,432.58L122.13,437.39M119.73,431.58L119.73,438.38M122.13,432.58L117.32,437.39" stroke="#3FA02A" stroke-width="0.8" fill="none"/>
<path d="M122.31,434.57L129.11,434.57M123.31,432.17L128.12,436.98M125.71,431.17L125.71,437.97M128.12,432.17L123.31,436.98" stroke="#3FA02A" stroke-width="0.8" fill="none"/>
<path d="M166.03,396.12L173.23,396.12M167.09,393.58L172.18,398.67M169.63,392.52L169.63,399.72M172.18,393.58L167.09,398.67" stroke="#3FA02A" stroke-width="0.9" fill="none"/>
<path d="M172.10,388.82L179.30,388.82M173.16,386.28L178.25,391.37M175.70,385.22L175.70,392.42M178.25,386.28L173.16,391.37" stroke="#3FA02A" stroke-width="0.9" fill="none"/>
<path d="M178.86,382.14L186.06,382.14M179.91,379.60L185.01,384.69M182.46,378.54L182.46,385.74M185.01,379.60L179.91,384.69" stroke="#3FA02A" stroke-width="0.9" fill="none"/>
<path d="M185.42,375.28L192.62,375.28M186.48,372.74L191.57,377.83M189.02,371.68L189.02,378.88M191.57,372.74L186.48,377.83" stroke="#3FA02A" stroke-width="0.9" fill="none"/>
<path d="M193.13,369.87L200.33,369.87M194.18,367.32L199.27,372.41M196.73,366.27L196.73,373.47M199.27,367.32L194.18,372.41" stroke="#3FA02A" stroke-width="0.9" fill="none"/>
<path d="M202.15,366.93L209.35,366.93M203.20,364.38L208.30,369.47M205.75,363.33L205.75,370.53M208.30,364.38L203.20,369.47" stroke="#3FA02A" stroke-width="0.9" fill="none"/>
<path d="M211.44,364.95L218.64,364.95M212.49,362.41L217.58,367.50M215.04,361.35L215.04,368.55M217.58,362.41L212.49,367.50" stroke="#3FA02A" stroke-width="0.9" fill="none"/>
<path d="M220.86,363.77L228.06,363.77M221.92,361.23L227.01,366.32M224.46,360.17L224.46,367.37M227.01,361.23L221.92,366.32" stroke="#3FA02A" stroke-width="0.9" fill="none"/>
<path d="M230.34,363.44L237.54,363.44M231.40,360.89L236.49,365.98M233.94,359.84L233.94,367.04M236.49,360.89L231.40,365.98" stroke="#3FA02A" stroke-width="0.9" fill="none"/>
<path d="M239.84,363.38L247.04,363.38M240.90,360.84L245.99,365.93M243.44,359.78L243.44,366.98M245.99,360.84L240.90,365.93" stroke="#3FA02A" stroke-width="0.9" fill="none"/>
<path d="M249.34,363.35L256.54,363.35M250.40,360.81L255.49,365.90M252.94,359.75L252.94,366.95M255.49,360.81L250.40,365.90" stroke="#3FA02A" stroke-width="0.9" fill="none"/>
<path d="M258.84,363.34L266.04,363.34M259.90,360.79L264.99,365.88M262.44,359.74L262.44,366.94M264.99,360.79L259.90,365.88" stroke="#3FA02A" stroke-width="0.9" fill="none"/>
<path d="M268.34,363.33L275.54,363.33M269.40,360.78L274.49,365.87M271.94,359.73L271.94,366.93M274.49,360.78L269.40,365.87" stroke="#3FA02A" stroke-width="0.9" fill="none"/>
<path d="M277.84,363.32L285.04,363.32M278.90,360.77L283.99,365.86M281.44,359.72L281.44,366.92M283.99,360.77L278.90,365.86" stroke="#3FA02A" stroke-width="0.9" fill="none"/>
<path d="M287.34,363.31L294.54,363.31M288.40,360.77L293.49,365.86M290.94,359.71L290.94,366.91M293.49,360.77L288.40,365.86" stroke="#3FA02A" stroke-width="0.9" fill="none"/>
<path d="M296.84,363.31L304.04,363.31M297.90,360.76L302.99,365.86M300.44,359.71L300.44,366.91M302.99,360.76L297.90,365.86" stroke="#3FA02A" stroke-width="0.9" fill="none"/>
<path d="M306.34,363.31L313.54,363.31M307.40,360.76L312.49,365.85M309.94,359.71L309.94,366.91M312.49,360.76L307.40,365.85" stroke="#3FA02A" stroke-width="0.9" fill="none"/>
<path d="M315.84,363.31L323.04,363.31M316.90,360.76L321.99,365.85M319.44,359.71L319.44,366.91M321.99,360.76L316.90,365.85" stroke="#3FA02A" stroke-width="0.9" fill="none"/>
<path d="M325.34,363.31L332.54,363.31M326.40,360.76L331.49,365.85M328.94,359.71L328.94,366.91M331.49,360.76L326.40,365.85" stroke="#3FA02A" stroke-width="0.9" fill="none"/>
<path d="M334.84,363.30L342.04,363.30M335.90,360.76L340.99,365.85M338.44,359.70L338.44,366.90M340.99,360.76L335.90,365.85" stroke="#3FA02A" stroke-width="0.9" fill="none"/>
<polygon points="27.50,434.50 30.53,439.75 24.47,439.75" fill="none" stroke="#EDB120" stroke-width="0.9"/>
<path d="M25.50,437.00L31.50,437.00M26.38,434.88L30.62,439.12M28.50,434.00L28.50,440.00M30.62,434.88L26.38,439.12" stroke="#3FA02A" stroke-width="0.8" fill="none"/>
<path d="M31,432 L35,436 M33,434.5 C45,435.5 60,436.2 80,437" stroke="#7E2F8E" stroke-width="0.9" fill="none"/>
</g>
<text transform="translate(36.8,307.8) scale(1,1.13)" font-size="9.5" text-anchor="start" textLength="30.4" lengthAdjust="spacingAndGlyphs">Present:</text>
<path d="M36.2,311.3H65.6" stroke="#0072BD" stroke-width="1.1" fill="none"/>
<text transform="translate(68.2,314.5) scale(1,1.13)" font-size="8.5" text-anchor="start">Classic(CTE)</text>
<path d="M36.2,322.9H65.6" stroke="#EB9272" stroke-width="1.8" fill="none"/>
<circle cx="51.00" cy="322.90" r="1.10" fill="#D95319"/>
<text transform="translate(68.2,326.1) scale(1,1.13)" font-size="8.5" text-anchor="start">ea=0nm , l=1nm (SGT)</text>
<path d="M36.2,334.3H65.6" stroke="#EDB120" stroke-width="1.0" fill="none"/>
<polygon points="51.00,330.40 54.38,336.25 47.62,336.25" fill="none" stroke="#EDB120" stroke-width="0.9"/>
<text transform="translate(68.2,337.5) scale(1,1.13)" font-size="8.5" text-anchor="start">ea=10nm , l=0nm(NET)</text>
<path d="M36.2,345.6H65.6" stroke="#AC6CBC" stroke-width="1.8" fill="none"/>
<polygon points="51.00,341.30 54.23,345.60 51.00,349.90 47.77,345.60" fill="none" stroke="#7E2F8E" stroke-width="0.9"/>
<text transform="translate(68.2,348.8) scale(1,1.13)" font-size="8.5" text-anchor="start">ea=10nm , l=5nm(NSGT)</text>
<path d="M36.2,356.8H65.6" stroke="#3FA02A" stroke-width="1.1" fill="none"/>
<path d="M47.60,356.80L54.40,356.80M48.60,354.40L53.40,359.20M51.00,353.40L51.00,360.20M53.40,354.40L48.60,359.20" stroke="#3FA02A" stroke-width="0.9" fill="none"/>
<text transform="translate(68.2,360.0) scale(1,1.13)" font-size="8.5" text-anchor="start">ea=5nm , l=10nm(NSGT)</text>
<text transform="translate(34.9,373.0) scale(1,1.13)" font-size="9.5" text-anchor="start" textLength="35.0" lengthAdjust="spacingAndGlyphs">Ref.[69]:</text>
<path d="M36.2,380.8H65.6" stroke="#0072BD" stroke-width="1.3" stroke-dasharray="7,3.5" fill="none"/>
<text transform="translate(68.2,384.0) scale(1,1.13)" font-size="8.5" text-anchor="start">Classic</text>
<path d="M36.2,392.4H65.6" stroke="#D2D23C" stroke-width="1.3" stroke-dasharray="7,3.5" fill="none"/>
<text transform="translate(68.2,395.6) scale(1,1.13)" font-size="8.5" text-anchor="start">ea=10nm , l=0nm</text>
<path d="M36.2,404.4H65.6" stroke="#D95319" stroke-width="1.2" stroke-dasharray="0.9,1.6" fill="none"/>
<text transform="translate(68.2,407.6) scale(1,1.13)" font-size="8.5" text-anchor="start">ea=0nm , l=1nm</text>
<path d="M36.2,415.7H65.6" stroke="#4CB04C" stroke-width="1.3" stroke-dasharray="7,3.5" fill="none"/>
<text transform="translate(68.2,418.9) scale(1,1.13)" font-size="8.5" text-anchor="start">ea=5nm , l=10nm</text>
<path d="M36.2,426.6H65.6" stroke="#7E2F8E" stroke-width="2.0" stroke-dasharray="5,2,1.5,2" fill="none"/>
<text transform="translate(68.2,429.8) scale(1,1.13)" font-size="8.5" text-anchor="start">ea=10nm , l=5nm</text>
</g>
<g>
<rect x="26.5" y="592.6" width="314.8" height="240.5" fill="none" stroke="#4d4d4d" stroke-width="1"/>
<path d="M45.45,833.1v-1.8M45.45,592.6v1.8M56.54,833.1v-1.8M56.54,592.6v1.8M64.41,833.1v-1.8M64.41,592.6v1.8M70.51,833.1v-1.8M70.51,592.6v1.8M75.49,833.1v-1.8M75.49,592.6v1.8M79.71,833.1v-1.8M79.71,592.6v1.8M83.36,833.1v-1.8M83.36,592.6v1.8M86.58,833.1v-1.8M86.58,592.6v1.8M89.46,833.1v-3.2M89.46,592.6v3.2M108.41,833.1v-1.8M108.41,592.6v1.8M119.50,833.1v-1.8M119.50,592.6v1.8M127.37,833.1v-1.8M127.37,592.6v1.8M133.47,833.1v-1.8M133.47,592.6v1.8M138.45,833.1v-1.8M138.45,592.6v1.8M142.67,833.1v-1.8M142.67,592.6v1.8M146.32,833.1v-1.8M146.32,592.6v1.8M149.54,833.1v-1.8M149.54,592.6v1.8M152.42,833.1v-3.2M152.42,592.6v3.2M171.37,833.1v-1.8M171.37,592.6v1.8M182.46,833.1v-1.8M182.46,592.6v1.8M190.33,833.1v-1.8M190.33,592.6v1.8M196.43,833.1v-1.8M196.43,592.6v1.8M201.41,833.1v-1.8M201.41,592.6v1.8M205.63,833.1v-1.8M205.63,592.6v1.8M209.28,833.1v-1.8M209.28,592.6v1.8M212.50,833.1v-1.8M212.50,592.6v1.8M215.38,833.1v-3.2M215.38,592.6v3.2M234.33,833.1v-1.8M234.33,592.6v1.8M245.42,833.1v-1.8M245.42,592.6v1.8M253.29,833.1v-1.8M253.29,592.6v1.8M259.39,833.1v-1.8M259.39,592.6v1.8M264.37,833.1v-1.8M264.37,592.6v1.8M268.59,833.1v-1.8M268.59,592.6v1.8M272.24,833.1v-1.8M272.24,592.6v1.8M275.46,833.1v-1.8M275.46,592.6v1.8M278.34,833.1v-3.2M278.34,592.6v3.2M297.29,833.1v-1.8M297.29,592.6v1.8M308.38,833.1v-1.8M308.38,592.6v1.8M316.25,833.1v-1.8M316.25,592.6v1.8M322.35,833.1v-1.8M322.35,592.6v1.8M327.33,833.1v-1.8M327.33,592.6v1.8M331.55,833.1v-1.8M331.55,592.6v1.8M335.20,833.1v-1.8M335.20,592.6v1.8M338.42,833.1v-1.8M338.42,592.6v1.8M26.5,833.10h3M341.3,833.10h-3M26.5,785.00h3M341.3,785.00h-3M26.5,736.90h3M341.3,736.90h-3M26.5,688.80h3M341.3,688.80h-3M26.5,640.70h3M341.3,640.70h-3M26.5,592.60h3M341.3,592.60h-3" stroke="#4d4d4d" stroke-width="0.9" fill="none"/>
<text transform="translate(23.6,836.54) scale(1,1.13)" font-size="9.0" text-anchor="end">-5</text>
<text transform="translate(23.6,788.44) scale(1,1.13)" font-size="9.0" text-anchor="end">0</text>
<text transform="translate(23.6,740.34) scale(1,1.13)" font-size="9.0" text-anchor="end">5</text>
<text transform="translate(23.6,692.24) scale(1,1.13)" font-size="9.0" text-anchor="end">10</text>
<text transform="translate(23.6,644.14) scale(1,1.13)" font-size="9.0" text-anchor="end">15</text>
<text transform="translate(23.6,596.04) scale(1,1.13)" font-size="9.0" text-anchor="end">20</text>
<text transform="translate(18.60,848.2) scale(1,1.13)" font-size="8.7">10<tspan font-size="6.6" dx="0.5" dy="-3.13">-3</tspan></text>
<text transform="translate(81.56,848.2) scale(1,1.13)" font-size="8.7">10<tspan font-size="6.6" dx="0.5" dy="-3.13">-2</tspan></text>
<text transform="translate(144.52,848.2) scale(1,1.13)" font-size="8.7">10<tspan font-size="6.6" dx="0.5" dy="-3.13">-1</tspan></text>
<text transform="translate(208.58,848.2) scale(1,1.13)" font-size="8.7">10<tspan font-size="6.6" dx="0.5" dy="-3.13">0</tspan></text>
<text transform="translate(271.54,848.2) scale(1,1.13)" font-size="8.7">10<tspan font-size="6.6" dx="0.5" dy="-3.13">1</tspan></text>
<text transform="translate(334.50,848.2) scale(1,1.13)" font-size="8.7">10<tspan font-size="6.6" dx="0.5" dy="-3.13">2</tspan></text>
<text transform="translate(132.4,857.0) scale(1,1.0)" font-size="10" text-anchor="start" textLength="92.6" lengthAdjust="spacingAndGlyphs" stroke-width="0.06">Wave number K(1/nm)</text>
<text transform="translate(136.3,872.6) scale(1,1.13)" font-size="11.4" text-anchor="start" textLength="12.7" lengthAdjust="spacingAndGlyphs" stroke-width="0.06">(c)</text>
<text transform="translate(152.2,872.6) scale(1,1.13)" font-size="9.2" text-anchor="start" textLength="53" lengthAdjust="spacingAndGlyphs">Bending wave</text>
<text transform="translate(8.0,764.6) rotate(-90) scale(1,1.05)" font-size="10" textLength="103.2" lengthAdjust="spacingAndGlyphs">Phase Velocity C<tspan font-size="7.2" dy="2.3">p</tspan><tspan dy="-2.3">(Km/s)</tspan></text>
<clipPath id="cc"><rect x="26.5" y="592.6" width="314.8" height="240.5"/></clipPath>
<g clip-path="url(#cc)">
<path d="M26.80,784.20 C29.00,783.75 35.45,782.52 40.00,781.50 C44.55,780.48 49.43,779.27 54.10,778.10 C58.77,776.93 63.52,775.80 68.00,774.50 C72.48,773.20 76.83,771.63 81.00,770.30 C85.17,768.97 89.00,767.97 93.00,766.50 C97.00,765.03 101.33,763.00 105.00,761.50 C108.67,760.00 111.33,758.92 115.00,757.50 C118.67,756.08 122.03,754.67 127.00,753.00 C131.97,751.33 139.30,749.08 144.80,747.50 C150.30,745.92 155.47,744.83 160.00,743.50 C164.53,742.17 168.50,741.09 172.00,739.50 C175.50,737.91 178.00,736.03 181.00,733.98 C184.00,731.92 186.95,729.34 190.00,727.19 C193.05,725.04 196.30,722.49 199.30,721.07 C202.30,719.66 202.88,719.26 208.00,718.71 C213.12,718.17 207.78,717.95 230.00,717.80 C252.22,717.65 322.75,717.80 341.30,717.80" fill="none" stroke="#0072BD" stroke-width="1.2" stroke-dasharray="5,2.5" stroke-linejoin="round"/>
<path d="M26.80,784.20 C29.00,783.75 35.45,782.52 40.00,781.50 C44.55,780.48 49.43,779.27 54.10,778.10 C58.77,776.93 63.52,775.80 68.00,774.50 C72.48,773.20 76.83,771.63 81.00,770.30 C85.17,768.97 89.00,767.97 93.00,766.50 C97.00,765.03 101.33,763.00 105.00,761.50 C108.67,760.00 111.33,759.00 115.00,757.50 C118.67,756.00 122.40,754.07 127.00,752.50 C131.60,750.93 137.38,749.77 142.60,748.10 C147.82,746.43 153.37,744.52 158.30,742.50 C163.23,740.48 167.45,738.77 172.20,736.00 C176.95,733.23 182.32,729.45 186.80,725.90 C191.28,722.35 195.90,717.80 199.10,714.70 C202.30,711.60 203.72,709.67 206.00,707.30 C208.28,704.93 210.92,702.93 212.80,700.50 C214.68,698.07 216.00,695.68 217.30,692.70 C218.60,689.72 219.48,686.53 220.60,682.60 C221.72,678.67 222.87,673.58 224.00,669.10 C225.13,664.62 226.47,658.23 227.40,655.70 C228.33,653.17 228.40,656.27 229.60,653.90 C230.80,651.53 233.20,646.83 234.60,641.50 C236.00,636.17 236.92,627.50 238.00,621.90 C239.08,616.30 240.12,612.78 241.10,607.90 C242.08,603.02 243.43,595.15 243.90,592.60" fill="none" stroke="#A2142F" stroke-width="1.4" stroke-dasharray="1.2,1" stroke-linejoin="round"/>
<path d="M26.80,784.20 C29.00,783.75 35.45,782.52 40.00,781.50 C44.55,780.48 49.43,779.27 54.10,778.10 C58.77,776.93 63.52,775.80 68.00,774.50 C72.48,773.20 76.83,771.63 81.00,770.30 C85.17,768.97 89.00,767.97 93.00,766.50 C97.00,765.03 101.33,763.00 105.00,761.50 C108.67,760.00 111.33,758.62 115.00,757.50 C118.67,756.38 122.03,754.80 127.00,754.80 C131.97,754.80 139.22,756.58 144.80,757.50 C150.38,758.42 156.30,759.22 160.50,760.30 C164.70,761.38 166.62,762.63 170.00,764.00 C173.38,765.37 176.43,766.73 180.80,768.50 C185.17,770.27 191.27,772.87 196.20,774.60 C201.13,776.33 205.27,777.62 210.40,778.90 C215.53,780.18 220.40,781.47 227.00,782.30 C233.60,783.13 237.83,783.45 250.00,783.90 C262.17,784.35 284.78,784.78 300.00,785.00 C315.22,785.22 334.42,785.17 341.30,785.20" fill="none" stroke="#A2142F" stroke-width="1.0" stroke-dasharray="4,1.5,1,1.5" stroke-linejoin="round"/>
<path d="M26.80,784.20 C29.00,783.75 35.45,782.52 40.00,781.50 C44.55,780.48 49.43,779.27 54.10,778.10 C58.77,776.93 63.52,775.80 68.00,774.50 C72.48,773.20 76.83,771.63 81.00,770.30 C85.17,768.97 89.00,767.97 93.00,766.50 C97.00,765.03 101.33,763.00 105.00,761.50 C108.67,760.00 111.67,759.28 115.00,757.50 C118.33,755.72 121.67,752.63 125.00,750.80 C128.33,748.97 132.17,747.97 135.00,746.50 C137.83,745.03 139.50,743.83 142.00,742.00 C144.50,740.17 147.33,738.33 150.00,735.50 C152.67,732.67 155.25,729.17 158.00,725.00 C160.75,720.83 163.33,716.08 166.50,710.50 C169.67,704.92 173.75,697.00 177.00,691.50 C180.25,686.00 183.33,681.25 186.00,677.50 C188.67,673.75 190.67,671.50 193.00,669.00 C195.33,666.50 197.17,664.53 200.00,662.50 C202.83,660.47 206.67,658.25 210.00,656.80 C213.33,655.35 215.83,654.67 220.00,653.80 C224.17,652.93 228.33,652.15 235.00,651.60 C241.67,651.05 242.28,650.77 260.00,650.50 C277.72,650.23 327.75,650.08 341.30,650.00" fill="none" stroke="#77AC30" stroke-width="1.0" stroke-linejoin="round"/>
<path d="M26.80,784.20 C29.00,783.75 35.45,782.52 40.00,781.50 C44.55,780.48 49.43,779.27 54.10,778.10 C58.77,776.93 63.52,775.80 68.00,774.50 C72.48,773.20 76.83,771.63 81.00,770.30 C85.17,768.97 89.00,767.97 93.00,766.50 C97.00,765.03 101.33,763.00 105.00,761.50 C108.67,760.00 111.33,758.61 115.00,757.50 C118.67,756.39 122.03,755.74 127.00,754.84 C131.97,753.94 138.08,752.64 144.80,752.12 C151.52,751.59 134.55,751.72 167.30,751.70 C200.05,751.68 312.30,751.95 341.30,752.00" fill="none" stroke="#3DBBE0" stroke-width="1.5" stroke-dasharray="5,2.5" stroke-linejoin="round"/>
<path d="M26.80,784.20 C29.00,783.75 35.45,782.52 40.00,781.50 C44.55,780.48 49.43,779.27 54.10,778.10 C58.77,776.93 63.52,775.80 68.00,774.50 C72.48,773.20 76.83,771.63 81.00,770.30 C85.17,768.97 89.00,767.97 93.00,766.50 C97.00,765.03 101.33,763.00 105.00,761.50 C108.67,760.00 111.33,758.92 115.00,757.50 C118.67,756.08 122.03,754.67 127.00,753.00 C131.97,751.33 139.30,749.08 144.80,747.50 C150.30,745.92 155.47,744.83 160.00,743.50 C164.53,742.17 168.50,741.00 172.00,739.50 C175.50,738.00 178.00,736.33 181.00,734.50 C184.00,732.67 186.95,730.38 190.00,728.50 C193.05,726.62 196.30,724.35 199.30,723.20 C202.30,722.05 202.88,721.92 208.00,721.60 C213.12,721.28 207.78,721.35 230.00,721.30 C252.22,721.25 322.75,721.30 341.30,721.30" fill="none" stroke="#0072BD" stroke-width="1.0" stroke-linejoin="round"/>
<path d="M26.80,784.20 C29.00,783.75 35.45,782.52 40.00,781.50 C44.55,780.48 49.43,779.27 54.10,778.10 C58.77,776.93 63.52,775.80 68.00,774.50 C72.48,773.20 76.83,771.63 81.00,770.30 C85.17,768.97 89.00,767.97 93.00,766.50 C97.00,765.03 101.33,763.00 105.00,761.50 C108.67,760.00 111.33,759.00 115.00,757.50 C118.67,756.00 122.40,754.07 127.00,752.50 C131.60,750.93 137.38,749.77 142.60,748.10 C147.82,746.43 153.37,744.52 158.30,742.50 C163.23,740.48 167.45,738.77 172.20,736.00 C176.95,733.23 182.32,729.45 186.80,725.90 C191.28,722.35 195.90,717.80 199.10,714.70 C202.30,711.60 203.72,709.67 206.00,707.30 C208.28,704.93 210.92,702.93 212.80,700.50 C214.68,698.07 216.00,695.68 217.30,692.70 C218.60,689.72 219.48,686.53 220.60,682.60 C221.72,678.67 222.87,673.58 224.00,669.10 C225.13,664.62 226.47,658.23 227.40,655.70 C228.33,653.17 228.40,656.27 229.60,653.90 C230.80,651.53 233.20,646.83 234.60,641.50 C236.00,636.17 236.92,627.50 238.00,621.90 C239.08,616.30 240.12,612.78 241.10,607.90 C242.08,603.02 243.43,595.15 243.90,592.60" fill="none" stroke="#C0182F" stroke-width="1.0" stroke-linejoin="round"/>
<path d="M26.80,784.20 C29.00,783.75 35.45,782.52 40.00,781.50 C44.55,780.48 49.43,779.27 54.10,778.10 C58.77,776.93 63.52,775.80 68.00,774.50 C72.48,773.20 76.83,771.63 81.00,770.30 C85.17,768.97 89.00,767.97 93.00,766.50 C97.00,765.03 101.33,763.00 105.00,761.50 C108.67,760.00 111.33,758.62 115.00,757.50 C118.67,756.38 122.03,754.80 127.00,754.80 C131.97,754.80 139.22,756.58 144.80,757.50 C150.38,758.42 156.30,759.22 160.50,760.30 C164.70,761.38 166.62,762.63 170.00,764.00 C173.38,765.37 176.43,766.73 180.80,768.50 C185.17,770.27 191.27,772.87 196.20,774.60 C201.13,776.33 205.27,777.62 210.40,778.90 C215.53,780.18 220.40,781.47 227.00,782.30 C233.60,783.13 237.83,783.45 250.00,783.90 C262.17,784.35 284.78,784.78 300.00,785.00 C315.22,785.22 334.42,785.17 341.30,785.20" fill="none" stroke="#A2142F" stroke-width="1.0" stroke-linejoin="round"/>
<path d="M26.80,784.20 C29.00,783.75 35.45,782.52 40.00,781.50 C44.55,780.48 49.43,779.27 54.10,778.10 C58.77,776.93 63.52,775.80 68.00,774.50 C72.48,773.20 76.83,771.63 81.00,770.30 C85.17,768.97 89.00,767.97 93.00,766.50 C97.00,765.03 101.33,763.00 105.00,761.50 C108.67,760.00 111.67,759.17 115.00,757.50 C118.33,755.83 121.67,753.17 125.00,751.50 C128.33,749.83 131.67,748.83 135.00,747.50 C138.33,746.17 141.70,745.48 145.00,743.50 C148.30,741.52 151.97,738.85 154.80,735.60 C157.63,732.35 159.32,728.43 162.00,724.00 C164.68,719.57 167.67,714.77 170.90,709.00 C174.13,703.23 178.25,694.77 181.40,689.40 C184.55,684.03 187.30,680.15 189.80,676.80 C192.30,673.45 193.83,671.80 196.40,669.30 C198.97,666.80 202.33,663.48 205.20,661.80 C208.07,660.12 211.08,659.90 213.60,659.20 C216.12,658.50 217.50,658.02 220.30,657.60 C223.10,657.18 223.78,656.92 230.40,656.70 C237.02,656.48 241.52,656.38 260.00,656.30 C278.48,656.22 327.75,656.22 341.30,656.20" fill="none" stroke="#77AC30" stroke-width="1.0" stroke-linejoin="round"/>
<path d="M26.80,784.20 C29.00,783.75 35.45,782.52 40.00,781.50 C44.55,780.48 49.43,779.27 54.10,778.10 C58.77,776.93 63.52,775.80 68.00,774.50 C72.48,773.20 76.83,771.63 81.00,770.30 C85.17,768.97 89.00,767.97 93.00,766.50 C97.00,765.03 101.33,763.00 105.00,761.50 C108.67,760.00 111.33,758.58 115.00,757.50 C118.67,756.42 122.03,755.63 127.00,755.00 C131.97,754.37 138.08,753.92 144.80,753.70 C151.52,753.48 134.55,753.65 167.30,753.70 C200.05,753.75 312.30,753.95 341.30,754.00" fill="none" stroke="#2EC4CC" stroke-width="1.0" stroke-linejoin="round"/>
<polygon points="27.78,780.10 30.71,784.00 27.78,787.90 24.86,784.00" fill="none" stroke="#0072BD" stroke-width="0.9"/>
<polygon points="38.56,777.92 41.49,781.82 38.56,785.72 35.64,781.82" fill="none" stroke="#0072BD" stroke-width="0.9"/>
<polygon points="49.27,775.40 52.19,779.30 49.27,783.20 46.34,779.30" fill="none" stroke="#0072BD" stroke-width="0.9"/>
<polygon points="59.94,772.75 62.87,776.65 59.94,780.55 57.02,776.65" fill="none" stroke="#0072BD" stroke-width="0.9"/>
<polygon points="70.55,769.83 73.47,773.73 70.55,777.63 67.62,773.73" fill="none" stroke="#0072BD" stroke-width="0.9"/>
<polygon points="81.00,766.40 83.92,770.30 81.00,774.20 78.07,770.30" fill="none" stroke="#0072BD" stroke-width="0.9"/>
<polygon points="91.50,763.13 94.43,767.03 91.50,770.93 88.58,767.03" fill="none" stroke="#0072BD" stroke-width="0.9"/>
<polygon points="101.69,759.00 104.62,762.90 101.69,766.80 98.77,762.90" fill="none" stroke="#0072BD" stroke-width="0.9"/>
<polygon points="111.87,754.82 114.79,758.72 111.87,762.62 108.94,758.72" fill="none" stroke="#0072BD" stroke-width="0.9"/>
<polygon points="118.85,752.09 121.78,755.99 118.85,759.89 115.93,755.99" fill="none" stroke="#0072BD" stroke-width="0.9"/>
<polygon points="126.83,749.16 129.76,753.06 126.83,756.96 123.91,753.06" fill="none" stroke="#0072BD" stroke-width="0.9"/>
<polygon points="134.92,746.56 137.85,750.46 134.92,754.36 132.00,750.46" fill="none" stroke="#0072BD" stroke-width="0.9"/>
<polygon points="143.06,744.10 145.99,748.00 143.06,751.90 140.14,748.00" fill="none" stroke="#0072BD" stroke-width="0.9"/>
<polygon points="151.26,741.88 154.19,745.78 151.26,749.68 148.34,745.78" fill="none" stroke="#0072BD" stroke-width="0.9"/>
<polygon points="159.49,739.75 162.42,743.65 159.49,747.55 156.57,743.65" fill="none" stroke="#0072BD" stroke-width="0.9"/>
<polygon points="167.62,737.26 170.54,741.16 167.62,745.06 164.69,741.16" fill="none" stroke="#0072BD" stroke-width="0.9"/>
<polygon points="175.43,733.93 178.35,737.83 175.43,741.73 172.50,737.83" fill="none" stroke="#0072BD" stroke-width="0.9"/>
<polygon points="182.69,729.52 185.62,733.42 182.69,737.32 179.77,733.42" fill="none" stroke="#0072BD" stroke-width="0.9"/>
<polygon points="189.74,724.76 192.66,728.66 189.74,732.56 186.81,728.66" fill="none" stroke="#0072BD" stroke-width="0.9"/>
<polygon points="197.00,720.35 199.93,724.25 197.00,728.15 194.08,724.25" fill="none" stroke="#0072BD" stroke-width="0.9"/>
<polygon points="205.07,717.91 208.00,721.81 205.07,725.71 202.15,721.81" fill="none" stroke="#0072BD" stroke-width="0.9"/>
<polygon points="213.56,717.44 216.48,721.34 213.56,725.24 210.63,721.34" fill="none" stroke="#0072BD" stroke-width="0.9"/>
<polygon points="222.06,717.42 224.98,721.32 222.06,725.22 219.13,721.32" fill="none" stroke="#0072BD" stroke-width="0.9"/>
<polygon points="230.56,717.40 233.48,721.30 230.56,725.20 227.63,721.30" fill="none" stroke="#0072BD" stroke-width="0.9"/>
<polygon points="239.06,717.39 241.98,721.29 239.06,725.19 236.13,721.29" fill="none" stroke="#0072BD" stroke-width="0.9"/>
<polygon points="247.56,717.38 250.48,721.28 247.56,725.18 244.63,721.28" fill="none" stroke="#0072BD" stroke-width="0.9"/>
<polygon points="256.06,717.38 258.98,721.28 256.06,725.18 253.13,721.28" fill="none" stroke="#0072BD" stroke-width="0.9"/>
<polygon points="264.56,717.38 267.48,721.28 264.56,725.18 261.63,721.28" fill="none" stroke="#0072BD" stroke-width="0.9"/>
<polygon points="273.06,717.38 275.98,721.28 273.06,725.18 270.13,721.28" fill="none" stroke="#0072BD" stroke-width="0.9"/>
<polygon points="281.56,717.38 284.48,721.28 281.56,725.18 278.63,721.28" fill="none" stroke="#0072BD" stroke-width="0.9"/>
<polygon points="290.06,717.38 292.98,721.28 290.06,725.18 287.13,721.28" fill="none" stroke="#0072BD" stroke-width="0.9"/>
<polygon points="298.56,717.38 301.48,721.28 298.56,725.18 295.63,721.28" fill="none" stroke="#0072BD" stroke-width="0.9"/>
<polygon points="307.06,717.39 309.98,721.29 307.06,725.19 304.13,721.29" fill="none" stroke="#0072BD" stroke-width="0.9"/>
<polygon points="315.56,717.39 318.48,721.29 315.56,725.19 312.63,721.29" fill="none" stroke="#0072BD" stroke-width="0.9"/>
<polygon points="324.06,717.39 326.98,721.29 324.06,725.19 321.13,721.29" fill="none" stroke="#0072BD" stroke-width="0.9"/>
<polygon points="332.56,717.40 335.48,721.30 332.56,725.20 329.63,721.30" fill="none" stroke="#0072BD" stroke-width="0.9"/>
<polygon points="341.06,717.40 343.98,721.30 341.06,725.20 338.13,721.30" fill="none" stroke="#0072BD" stroke-width="0.9"/>
<circle cx="34.65" cy="782.63" r="1.30" fill="#E8000B" stroke="#E8000B" stroke-width="0.6"/>
<circle cx="49.27" cy="779.30" r="1.30" fill="#E8000B" stroke="#E8000B" stroke-width="0.6"/>
<circle cx="63.82" cy="775.65" r="1.30" fill="#E8000B" stroke="#E8000B" stroke-width="0.6"/>
<circle cx="78.15" cy="771.23" r="1.30" fill="#E8000B" stroke="#E8000B" stroke-width="0.6"/>
<circle cx="92.45" cy="766.70" r="1.30" fill="#E8000B" stroke="#E8000B" stroke-width="0.6"/>
<circle cx="106.31" cy="760.97" r="1.30" fill="#E8000B" stroke="#E8000B" stroke-width="0.6"/>
<circle cx="121.08" cy="754.84" r="1.90" fill="#E8000B" stroke="#E8000B" stroke-width="0.6"/>
<circle cx="128.56" cy="752.00" r="1.90" fill="#E8000B" stroke="#E8000B" stroke-width="0.6"/>
<circle cx="136.27" cy="749.89" r="1.90" fill="#E8000B" stroke="#E8000B" stroke-width="0.6"/>
<circle cx="143.95" cy="747.66" r="1.90" fill="#E8000B" stroke="#E8000B" stroke-width="0.6"/>
<circle cx="151.53" cy="745.08" r="1.90" fill="#E8000B" stroke="#E8000B" stroke-width="0.6"/>
<circle cx="158.99" cy="742.22" r="1.90" fill="#E8000B" stroke="#E8000B" stroke-width="0.6"/>
<circle cx="166.34" cy="739.06" r="1.90" fill="#E8000B" stroke="#E8000B" stroke-width="0.6"/>
<circle cx="173.40" cy="735.29" r="1.90" fill="#E8000B" stroke="#E8000B" stroke-width="0.6"/>
<circle cx="180.08" cy="730.90" r="1.90" fill="#E8000B" stroke="#E8000B" stroke-width="0.6"/>
<circle cx="186.50" cy="726.13" r="1.90" fill="#E8000B" stroke="#E8000B" stroke-width="0.6"/>
<circle cx="192.57" cy="720.92" r="1.90" fill="#E8000B" stroke="#E8000B" stroke-width="0.6"/>
<circle cx="198.37" cy="715.41" r="1.90" fill="#E8000B" stroke="#E8000B" stroke-width="0.6"/>
<circle cx="203.88" cy="709.61" r="1.90" fill="#E8000B" stroke="#E8000B" stroke-width="0.6"/>
<circle cx="209.52" cy="703.95" r="1.90" fill="#E8000B" stroke="#E8000B" stroke-width="0.6"/>
<circle cx="216.77" cy="693.88" r="1.90" fill="#E8000B" stroke="#E8000B" stroke-width="0.6"/>
<circle cx="220.75" cy="682.05" r="1.90" fill="#E8000B" stroke="#E8000B" stroke-width="0.6"/>
<circle cx="223.79" cy="669.92" r="1.90" fill="#E8000B" stroke="#E8000B" stroke-width="0.6"/>
<circle cx="226.76" cy="657.78" r="1.90" fill="#E8000B" stroke="#E8000B" stroke-width="0.6"/>
<circle cx="232.55" cy="647.57" r="1.90" fill="#E8000B" stroke="#E8000B" stroke-width="0.6"/>
<circle cx="235.82" cy="635.54" r="1.90" fill="#E8000B" stroke="#E8000B" stroke-width="0.6"/>
<circle cx="237.76" cy="623.19" r="1.90" fill="#E8000B" stroke="#E8000B" stroke-width="0.6"/>
<circle cx="240.44" cy="610.98" r="1.90" fill="#E8000B" stroke="#E8000B" stroke-width="0.6"/>
<circle cx="242.81" cy="598.71" r="1.90" fill="#E8000B" stroke="#E8000B" stroke-width="0.6"/>
<polygon points="40.51,777.78 43.63,783.18 37.40,783.18" fill="none" stroke="#A2142F" stroke-width="0.9"/>
<polygon points="59.94,773.05 63.06,778.45 56.83,778.45" fill="none" stroke="#A2142F" stroke-width="0.9"/>
<polygon points="79.10,767.32 82.22,772.72 75.98,772.72" fill="none" stroke="#A2142F" stroke-width="0.9"/>
<polygon points="98.02,760.89 101.14,766.29 94.90,766.29" fill="none" stroke="#A2142F" stroke-width="0.9"/>
<polygon points="116.55,753.40 119.67,758.80 113.44,758.80" fill="none" stroke="#A2142F" stroke-width="0.9"/>
<polygon points="118.93,752.61 122.04,758.01 115.81,758.01" fill="none" stroke="#A2142F" stroke-width="0.9"/>
<polygon points="127.27,751.20 130.39,756.60 124.15,756.60" fill="none" stroke="#A2142F" stroke-width="0.9"/>
<polygon points="135.70,752.21 138.82,757.61 132.58,757.61" fill="none" stroke="#A2142F" stroke-width="0.9"/>
<polygon points="144.05,753.77 147.17,759.17 140.94,759.17" fill="none" stroke="#A2142F" stroke-width="0.9"/>
<polygon points="152.45,755.12 155.56,760.52 149.33,760.52" fill="none" stroke="#A2142F" stroke-width="0.9"/>
<polygon points="160.78,756.77 163.90,762.17 157.66,762.17" fill="none" stroke="#A2142F" stroke-width="0.9"/>
<polygon points="168.69,759.85 171.81,765.25 165.57,765.25" fill="none" stroke="#A2142F" stroke-width="0.9"/>
<polygon points="176.53,763.13 179.65,768.53 173.41,768.53" fill="none" stroke="#A2142F" stroke-width="0.9"/>
<polygon points="184.39,766.37 187.51,771.77 181.27,771.77" fill="none" stroke="#A2142F" stroke-width="0.9"/>
<polygon points="192.28,769.54 195.39,774.94 189.16,774.94" fill="none" stroke="#A2142F" stroke-width="0.9"/>
<polygon points="200.28,772.39 203.40,777.79 197.17,777.79" fill="none" stroke="#A2142F" stroke-width="0.9"/>
<polygon points="208.44,774.80 211.55,780.20 205.32,780.20" fill="none" stroke="#A2142F" stroke-width="0.9"/>
<polygon points="216.69,776.84 219.80,782.24 213.57,782.24" fill="none" stroke="#A2142F" stroke-width="0.9"/>
<polygon points="225.03,778.43 228.15,783.83 221.92,783.83" fill="none" stroke="#A2142F" stroke-width="0.9"/>
<polygon points="233.48,779.41 236.59,784.81 230.36,784.81" fill="none" stroke="#A2142F" stroke-width="0.9"/>
<polygon points="241.96,779.97 245.07,785.37 238.84,785.37" fill="none" stroke="#A2142F" stroke-width="0.9"/>
<polygon points="250.45,780.32 253.57,785.72 247.33,785.72" fill="none" stroke="#A2142F" stroke-width="0.9"/>
<polygon points="258.95,780.58 262.06,785.98 255.83,785.98" fill="none" stroke="#A2142F" stroke-width="0.9"/>
<polygon points="267.44,780.80 270.56,786.20 264.33,786.20" fill="none" stroke="#A2142F" stroke-width="0.9"/>
<polygon points="275.94,780.98 279.06,786.38 272.82,786.38" fill="none" stroke="#A2142F" stroke-width="0.9"/>
<polygon points="284.44,781.15 287.56,786.55 281.32,786.55" fill="none" stroke="#A2142F" stroke-width="0.9"/>
<polygon points="292.94,781.29 296.06,786.69 289.82,786.69" fill="none" stroke="#A2142F" stroke-width="0.9"/>
<polygon points="301.44,781.42 304.55,786.82 298.32,786.82" fill="none" stroke="#A2142F" stroke-width="0.9"/>
<polygon points="309.94,781.50 313.05,786.90 306.82,786.90" fill="none" stroke="#A2142F" stroke-width="0.9"/>
<polygon points="318.44,781.55 321.55,786.95 315.32,786.95" fill="none" stroke="#A2142F" stroke-width="0.9"/>
<polygon points="326.94,781.58 330.05,786.98 323.82,786.98" fill="none" stroke="#A2142F" stroke-width="0.9"/>
<polygon points="335.44,781.59 338.55,786.99 332.32,786.99" fill="none" stroke="#A2142F" stroke-width="0.9"/>
<polygon points="28.10,783.23 33.50,780.11 33.50,786.34" fill="none" stroke="#77AC30" stroke-width="0.9"/>
<polygon points="47.61,778.82 53.01,775.70 53.01,781.94" fill="none" stroke="#77AC30" stroke-width="0.9"/>
<polygon points="66.95,773.73 72.35,770.61 72.35,776.85" fill="none" stroke="#77AC30" stroke-width="0.9"/>
<polygon points="86.00,767.66 91.40,764.54 91.40,770.78" fill="none" stroke="#77AC30" stroke-width="0.9"/>
<polygon points="104.58,760.28 109.98,757.16 109.98,763.39" fill="none" stroke="#77AC30" stroke-width="0.9"/>
<polygon points="147.00,739.61 152.40,736.49 152.40,742.72" fill="none" stroke="#77AC30" stroke-width="0.9"/>
<polygon points="151.60,735.13 157.00,732.01 157.00,738.24" fill="none" stroke="#77AC30" stroke-width="0.9"/>
<polygon points="167.30,709.00 172.70,705.88 172.70,712.12" fill="none" stroke="#77AC30" stroke-width="0.9"/>
<polygon points="177.80,689.40 183.20,686.28 183.20,692.52" fill="none" stroke="#77AC30" stroke-width="0.9"/>
<polygon points="186.20,676.80 191.60,673.68 191.60,679.92" fill="none" stroke="#77AC30" stroke-width="0.9"/>
<polygon points="192.60,669.50 198.00,666.38 198.00,672.61" fill="none" stroke="#77AC30" stroke-width="0.9"/>
<polygon points="201.60,661.80 207.00,658.68 207.00,664.92" fill="none" stroke="#77AC30" stroke-width="0.9"/>
<polygon points="210.90,658.95 216.30,655.83 216.30,662.06" fill="none" stroke="#77AC30" stroke-width="0.9"/>
<polygon points="216.70,657.60 222.10,654.48 222.10,660.72" fill="none" stroke="#77AC30" stroke-width="0.9"/>
<polygon points="230.20,656.60 235.60,653.48 235.60,659.71" fill="none" stroke="#77AC30" stroke-width="0.9"/>
<polygon points="238.08,656.44 243.48,653.32 243.48,659.55" fill="none" stroke="#77AC30" stroke-width="0.9"/>
<polygon points="245.58,656.36 250.98,653.24 250.98,659.48" fill="none" stroke="#77AC30" stroke-width="0.9"/>
<polygon points="253.08,656.32 258.48,653.20 258.48,659.43" fill="none" stroke="#77AC30" stroke-width="0.9"/>
<polygon points="260.58,656.28 265.98,653.17 265.98,659.40" fill="none" stroke="#77AC30" stroke-width="0.9"/>
<polygon points="268.08,656.26 273.48,653.15 273.48,659.38" fill="none" stroke="#77AC30" stroke-width="0.9"/>
<polygon points="275.58,656.25 280.98,653.13 280.98,659.37" fill="none" stroke="#77AC30" stroke-width="0.9"/>
<polygon points="283.08,656.24 288.48,653.12 288.48,659.36" fill="none" stroke="#77AC30" stroke-width="0.9"/>
<polygon points="290.58,656.23 295.98,653.11 295.98,659.35" fill="none" stroke="#77AC30" stroke-width="0.9"/>
<polygon points="298.08,656.23 303.48,653.11 303.48,659.34" fill="none" stroke="#77AC30" stroke-width="0.9"/>
<polygon points="305.58,656.22 310.98,653.10 310.98,659.34" fill="none" stroke="#77AC30" stroke-width="0.9"/>
<polygon points="313.08,656.22 318.48,653.10 318.48,659.33" fill="none" stroke="#77AC30" stroke-width="0.9"/>
<polygon points="320.58,656.21 325.98,653.09 325.98,659.33" fill="none" stroke="#77AC30" stroke-width="0.9"/>
<polygon points="328.08,656.21 333.48,653.09 333.48,659.33" fill="none" stroke="#77AC30" stroke-width="0.9"/>
<polygon points="335.58,656.20 340.98,653.08 340.98,659.32" fill="none" stroke="#77AC30" stroke-width="0.9"/>
<polygon points="40.20,782.23 34.80,785.35 34.80,779.11" fill="none" stroke="#2EC4CC" stroke-width="0.9"/>
<polygon points="56.75,778.34 51.35,781.45 51.35,775.22" fill="none" stroke="#2EC4CC" stroke-width="0.9"/>
<polygon points="73.19,774.03 67.79,777.14 67.79,770.91" fill="none" stroke="#2EC4CC" stroke-width="0.9"/>
<polygon points="89.38,768.84 83.98,771.95 83.98,765.72" fill="none" stroke="#2EC4CC" stroke-width="0.9"/>
<polygon points="105.29,762.90 99.89,766.02 99.89,759.78" fill="none" stroke="#2EC4CC" stroke-width="0.9"/>
<polygon points="121.13,756.79 115.73,759.91 115.73,753.67" fill="none" stroke="#2EC4CC" stroke-width="0.9"/>
<polygon points="122.59,756.43 117.19,759.54 117.19,753.31" fill="none" stroke="#2EC4CC" stroke-width="0.9"/>
<polygon points="130.96,754.96 125.56,758.07 125.56,751.84" fill="none" stroke="#2EC4CC" stroke-width="0.9"/>
<polygon points="139.42,754.15 134.02,757.27 134.02,751.04" fill="none" stroke="#2EC4CC" stroke-width="0.9"/>
<polygon points="147.91,753.72 142.51,756.83 142.51,750.60" fill="none" stroke="#2EC4CC" stroke-width="0.9"/>
<polygon points="155.59,753.65 150.19,756.77 150.19,750.54" fill="none" stroke="#2EC4CC" stroke-width="0.9"/>
<polygon points="164.09,753.69 158.69,756.80 158.69,750.57" fill="none" stroke="#2EC4CC" stroke-width="0.9"/>
<polygon points="172.59,753.70 167.19,756.82 167.19,750.58" fill="none" stroke="#2EC4CC" stroke-width="0.9"/>
<polygon points="181.09,753.72 175.69,756.83 175.69,750.60" fill="none" stroke="#2EC4CC" stroke-width="0.9"/>
<polygon points="189.59,753.73 184.19,756.85 184.19,750.61" fill="none" stroke="#2EC4CC" stroke-width="0.9"/>
<polygon points="198.09,753.74 192.69,756.86 192.69,750.63" fill="none" stroke="#2EC4CC" stroke-width="0.9"/>
<polygon points="206.59,753.76 201.19,756.88 201.19,750.64" fill="none" stroke="#2EC4CC" stroke-width="0.9"/>
<polygon points="215.09,753.77 209.69,756.89 209.69,750.66" fill="none" stroke="#2EC4CC" stroke-width="0.9"/>
<polygon points="223.59,753.79 218.19,756.91 218.19,750.67" fill="none" stroke="#2EC4CC" stroke-width="0.9"/>
<polygon points="232.09,753.80 226.69,756.92 226.69,750.68" fill="none" stroke="#2EC4CC" stroke-width="0.9"/>
<polygon points="240.59,753.82 235.19,756.94 235.19,750.70" fill="none" stroke="#2EC4CC" stroke-width="0.9"/>
<polygon points="249.09,753.83 243.69,756.95 243.69,750.71" fill="none" stroke="#2EC4CC" stroke-width="0.9"/>
<polygon points="257.59,753.85 252.19,756.96 252.19,750.73" fill="none" stroke="#2EC4CC" stroke-width="0.9"/>
<polygon points="266.09,753.86 260.69,756.98 260.69,750.74" fill="none" stroke="#2EC4CC" stroke-width="0.9"/>
<polygon points="274.59,753.88 269.19,756.99 269.19,750.76" fill="none" stroke="#2EC4CC" stroke-width="0.9"/>
<polygon points="283.09,753.89 277.69,757.01 277.69,750.77" fill="none" stroke="#2EC4CC" stroke-width="0.9"/>
<polygon points="291.59,753.91 286.19,757.02 286.19,750.79" fill="none" stroke="#2EC4CC" stroke-width="0.9"/>
<polygon points="300.09,753.92 294.69,757.04 294.69,750.80" fill="none" stroke="#2EC4CC" stroke-width="0.9"/>
<polygon points="308.59,753.94 303.19,757.05 303.19,750.82" fill="none" stroke="#2EC4CC" stroke-width="0.9"/>
<polygon points="317.09,753.95 311.69,757.07 311.69,750.83" fill="none" stroke="#2EC4CC" stroke-width="0.9"/>
<polygon points="325.59,753.97 320.19,757.08 320.19,750.85" fill="none" stroke="#2EC4CC" stroke-width="0.9"/>
<polygon points="334.09,753.98 328.69,757.10 328.69,750.86" fill="none" stroke="#2EC4CC" stroke-width="0.9"/>
<polygon points="342.59,754.00 337.19,757.11 337.19,750.88" fill="none" stroke="#2EC4CC" stroke-width="0.9"/>
</g>
<text transform="translate(35.5,600.8) scale(1,1.13)" font-size="9.5" text-anchor="start" textLength="30.7" lengthAdjust="spacingAndGlyphs">Present:</text>
<path d="M46,605.4H72.7" stroke="#0072BD" stroke-width="1.0" fill="none"/>
<polygon points="59.40,601.00 62.70,605.40 59.40,609.80 56.10,605.40" fill="none" stroke="#0072BD" stroke-width="0.9"/>
<text transform="translate(75,608.4) scale(1,1.13)" font-size="8.75" text-anchor="start">Classic(CET)</text>
<path d="M46,615.8H72.7" stroke="#D06A82" stroke-width="1.8" fill="none"/>
<circle cx="59.40" cy="615.80" r="2.00" fill="#E8000B" stroke="#E8000B" stroke-width="0.6"/>
<text transform="translate(75,618.8) scale(1,1.13)" font-size="8.75" text-anchor="start">ea=0nm , l=1nm (SGT)</text>
<path d="M46,626.5H72.7" stroke="#A2142F" stroke-width="1.0" fill="none"/>
<polygon points="59.40,622.60 62.78,628.45 56.02,628.45" fill="none" stroke="#A2142F" stroke-width="0.9"/>
<text transform="translate(75,629.5) scale(1,1.13)" font-size="8.75" text-anchor="start">ea=10nm , l=0nm(NET)</text>
<path d="M46,637.2H72.7" stroke="#9CC870" stroke-width="1.8" fill="none"/>
<polygon points="55.20,637.20 61.50,633.56 61.50,640.84" fill="none" stroke="#77AC30" stroke-width="0.9"/>
<text transform="translate(75,640.2) scale(1,1.13)" font-size="8.75" text-anchor="start">ea=5nm , l=10nm(NSGT)</text>
<path d="M46,647.4H72.7" stroke="#2EC4CC" stroke-width="1.0" fill="none"/>
<polygon points="63.60,647.40 57.30,651.04 57.30,643.76" fill="none" stroke="#2EC4CC" stroke-width="0.9"/>
<text transform="translate(75,650.4) scale(1,1.13)" font-size="8.75" text-anchor="start">ea=10nm , l=5nm(NSGT)</text>
<text transform="translate(36,663.6) scale(1,1.13)" font-size="9.5" text-anchor="start" textLength="35.7" lengthAdjust="spacingAndGlyphs">Ref.[69]:</text>
<path d="M46,668.5H73.5" stroke="#0072BD" stroke-width="1.2" stroke-dasharray="6.5,4" fill="none"/>
<text transform="translate(75.3,671.5) scale(1,1.13)" font-size="8.75" text-anchor="start">Classic</text>
<path d="M46,679.0H73.5" stroke="#B0203C" stroke-width="1.5" stroke-dasharray="1.1,1.3" fill="none"/>
<text transform="translate(75.3,682.0) scale(1,1.13)" font-size="8.75" text-anchor="start">ea=0nm , l=1nm</text>
<path d="M46,689.4H73.5" stroke="#A2142F" stroke-width="1.2" stroke-dasharray="5,2.5,1,2.5" fill="none"/>
<text transform="translate(75.3,692.4) scale(1,1.13)" font-size="8.75" text-anchor="start">ea=10nm , l=0nm</text>
<path d="M46,700.1H73.5" stroke="#9CC870" stroke-width="1.8" fill="none"/>
<text transform="translate(75.3,703.1) scale(1,1.13)" font-size="8.75" text-anchor="start">ea=5nm , l=10nm</text>
<path d="M46,710.6H73.5" stroke="#3DBBE0" stroke-width="1.7" stroke-dasharray="6.5,4" fill="none"/>
<text transform="translate(75.3,713.6) scale(1,1.13)" font-size="8.75" text-anchor="start">ea=10nm , l=5nm</text>
</g>
</svg>
</body></html>
